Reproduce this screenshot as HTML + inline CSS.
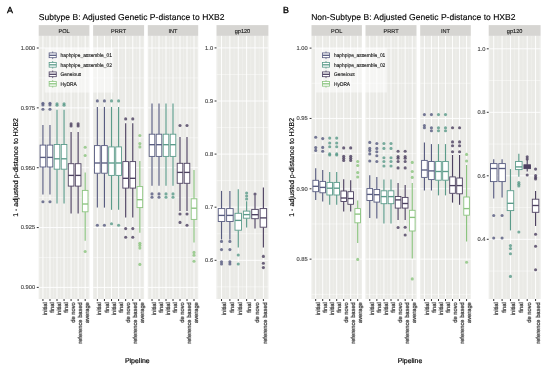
<!DOCTYPE html>
<html><head><meta charset="utf-8"><title>plot</title>
<style>
html,body{margin:0;padding:0;background:#fff;width:550px;height:368px;overflow:hidden}
svg{display:block;will-change:transform}
text{font-family:"Liberation Sans", sans-serif;text-rendering:geometricPrecision}
</style></head><body>
<svg width="550" height="368" viewBox="0 0 550 368">
<rect width="550" height="368" fill="#fff"/>
<text x="7" y="13" font-size="8.9" fill="#000" text-anchor="start" font-weight="normal" stroke="#000" stroke-width="0.35">A</text>
<text x="38.7" y="20.3" font-size="8.55" fill="#000" text-anchor="start" font-weight="normal" stroke="#000" stroke-width="0.12">Subtype B: Adjusted Genetic P-distance to HXB2</text>
<rect x="38.7" y="25.1" width="50.7" height="10.8" fill="#d6d5d2"/>
<text x="64.05" y="32.6" font-size="5.6" fill="#1a1a1a" text-anchor="middle" font-weight="normal" stroke="#1a1a1a" stroke-width="0.12">POL</text>
<rect x="38.7" y="35.9" width="50.7" height="263.1" fill="#eaeae6"/>
<line x1="38.7" x2="89.4" y1="77.92" y2="77.92" stroke="#fff" stroke-width="0.45"/>
<line x1="38.7" x2="89.4" y1="137.77" y2="137.77" stroke="#fff" stroke-width="0.45"/>
<line x1="38.7" x2="89.4" y1="197.62" y2="197.62" stroke="#fff" stroke-width="0.45"/>
<line x1="38.7" x2="89.4" y1="257.48" y2="257.48" stroke="#fff" stroke-width="0.45"/>
<line x1="38.7" x2="89.4" y1="48" y2="48" stroke="#fff" stroke-width="0.9"/>
<line x1="38.7" x2="89.4" y1="107.85" y2="107.85" stroke="#fff" stroke-width="0.9"/>
<line x1="38.7" x2="89.4" y1="167.7" y2="167.7" stroke="#fff" stroke-width="0.9"/>
<line x1="38.7" x2="89.4" y1="227.55" y2="227.55" stroke="#fff" stroke-width="0.9"/>
<line x1="38.7" x2="89.4" y1="287.4" y2="287.4" stroke="#fff" stroke-width="0.9"/>
<line x1="39.4" x2="39.4" y1="35.9" y2="299" stroke="#fff" stroke-opacity="0.55" stroke-width="0.4"/>
<line x1="46.45" x2="46.45" y1="35.9" y2="299" stroke="#fff" stroke-opacity="0.55" stroke-width="0.4"/>
<line x1="53.49" x2="53.49" y1="35.9" y2="299" stroke="#fff" stroke-opacity="0.55" stroke-width="0.4"/>
<line x1="60.53" x2="60.53" y1="35.9" y2="299" stroke="#fff" stroke-opacity="0.55" stroke-width="0.4"/>
<line x1="67.57" x2="67.57" y1="35.9" y2="299" stroke="#fff" stroke-opacity="0.55" stroke-width="0.4"/>
<line x1="74.61" x2="74.61" y1="35.9" y2="299" stroke="#fff" stroke-opacity="0.55" stroke-width="0.4"/>
<line x1="81.65" x2="81.65" y1="35.9" y2="299" stroke="#fff" stroke-opacity="0.55" stroke-width="0.4"/>
<line x1="88.7" x2="88.7" y1="35.9" y2="299" stroke="#fff" stroke-opacity="0.55" stroke-width="0.4"/>
<line x1="42.93" x2="42.93" y1="35.9" y2="299" stroke="#fff" stroke-width="0.9"/>
<line x1="49.97" x2="49.97" y1="35.9" y2="299" stroke="#fff" stroke-width="0.9"/>
<line x1="57.01" x2="57.01" y1="35.9" y2="299" stroke="#fff" stroke-width="0.9"/>
<line x1="64.05" x2="64.05" y1="35.9" y2="299" stroke="#fff" stroke-width="0.9"/>
<line x1="71.09" x2="71.09" y1="35.9" y2="299" stroke="#fff" stroke-width="0.9"/>
<line x1="78.13" x2="78.13" y1="35.9" y2="299" stroke="#fff" stroke-width="0.9"/>
<line x1="85.18" x2="85.18" y1="35.9" y2="299" stroke="#fff" stroke-width="0.9"/>
<line x1="42.93" x2="42.93" y1="299" y2="301" stroke="#333" stroke-width="1.0"/>
<text transform="translate(47.03,302.2) rotate(-90)" font-size="5.75" fill="#444" text-anchor="end" font-weight="normal" stroke="#444" stroke-width="0.25">initial</text>
<line x1="49.97" x2="49.97" y1="299" y2="301" stroke="#333" stroke-width="1.0"/>
<text transform="translate(54.07,302.2) rotate(-90)" font-size="5.75" fill="#444" text-anchor="end" font-weight="normal" stroke="#444" stroke-width="0.25">final</text>
<line x1="57.01" x2="57.01" y1="299" y2="301" stroke="#333" stroke-width="1.0"/>
<text transform="translate(61.11,302.2) rotate(-90)" font-size="5.75" fill="#444" text-anchor="end" font-weight="normal" stroke="#444" stroke-width="0.25">initial</text>
<line x1="64.05" x2="64.05" y1="299" y2="301" stroke="#333" stroke-width="1.0"/>
<text transform="translate(68.15,302.2) rotate(-90)" font-size="5.75" fill="#444" text-anchor="end" font-weight="normal" stroke="#444" stroke-width="0.25">final</text>
<line x1="71.09" x2="71.09" y1="299" y2="301" stroke="#333" stroke-width="1.0"/>
<text transform="translate(75.19,302.2) rotate(-90)" font-size="5.75" fill="#444" text-anchor="end" font-weight="normal" stroke="#444" stroke-width="0.25">de novo</text>
<line x1="78.13" x2="78.13" y1="299" y2="301" stroke="#333" stroke-width="1.0"/>
<text transform="translate(82.23,302.2) rotate(-90)" font-size="5.75" fill="#444" text-anchor="end" font-weight="normal" stroke="#444" stroke-width="0.25">reference based</text>
<line x1="85.18" x2="85.18" y1="299" y2="301" stroke="#333" stroke-width="1.0"/>
<text transform="translate(89.28,302.2) rotate(-90)" font-size="5.75" fill="#444" text-anchor="end" font-weight="normal" stroke="#444" stroke-width="0.25">average</text>
<line x1="36.8" x2="38.7" y1="48" y2="48" stroke="#333" stroke-width="1.0"/>
<text x="35.2" y="49.8" font-size="5.75" fill="#444" text-anchor="end" font-weight="normal" stroke="#444" stroke-width="0.12">1.000</text>
<line x1="36.8" x2="38.7" y1="107.85" y2="107.85" stroke="#333" stroke-width="1.0"/>
<text x="35.2" y="109.65" font-size="5.75" fill="#444" text-anchor="end" font-weight="normal" stroke="#444" stroke-width="0.12">0.975</text>
<line x1="36.8" x2="38.7" y1="167.7" y2="167.7" stroke="#333" stroke-width="1.0"/>
<text x="35.2" y="169.5" font-size="5.75" fill="#444" text-anchor="end" font-weight="normal" stroke="#444" stroke-width="0.12">0.950</text>
<line x1="36.8" x2="38.7" y1="227.55" y2="227.55" stroke="#333" stroke-width="1.0"/>
<text x="35.2" y="229.35" font-size="5.75" fill="#444" text-anchor="end" font-weight="normal" stroke="#444" stroke-width="0.12">0.925</text>
<line x1="36.8" x2="38.7" y1="287.4" y2="287.4" stroke="#333" stroke-width="1.0"/>
<text x="35.2" y="289.2" font-size="5.75" fill="#444" text-anchor="end" font-weight="normal" stroke="#444" stroke-width="0.12">0.900</text>
<line x1="42.93" x2="42.93" y1="124.9" y2="145.1" stroke="#585c80" stroke-width="1.15"/>
<line x1="42.93" x2="42.93" y1="167" y2="194.4" stroke="#585c80" stroke-width="1.15"/>
<rect x="40.11" y="145.1" width="5.63" height="21.9" fill="#fff" stroke="#585c80" stroke-width="0.9"/>
<line x1="40.11" x2="45.74" y1="157.4" y2="157.4" stroke="#585c80" stroke-width="1.35"/>
<circle cx="42.93" cy="103.3" r="1.55" fill="#585c80" fill-opacity="0.82"/>
<circle cx="42.93" cy="104.9" r="1.55" fill="#585c80" fill-opacity="0.82"/>
<circle cx="42.93" cy="109.3" r="1.55" fill="#585c80" fill-opacity="0.82"/>
<circle cx="42.93" cy="201.8" r="1.55" fill="#585c80" fill-opacity="0.82"/>
<line x1="49.97" x2="49.97" y1="124.9" y2="145.1" stroke="#585c80" stroke-width="1.15"/>
<line x1="49.97" x2="49.97" y1="167" y2="194.4" stroke="#585c80" stroke-width="1.15"/>
<rect x="47.15" y="145.1" width="5.63" height="21.9" fill="#fff" stroke="#585c80" stroke-width="0.9"/>
<line x1="47.15" x2="52.78" y1="157.4" y2="157.4" stroke="#585c80" stroke-width="1.35"/>
<circle cx="49.97" cy="103.3" r="1.55" fill="#585c80" fill-opacity="0.82"/>
<circle cx="49.97" cy="104.9" r="1.55" fill="#585c80" fill-opacity="0.82"/>
<circle cx="49.97" cy="109.3" r="1.55" fill="#585c80" fill-opacity="0.82"/>
<circle cx="49.97" cy="201.8" r="1.55" fill="#585c80" fill-opacity="0.82"/>
<line x1="57.01" x2="57.01" y1="109.8" y2="144.5" stroke="#5b9b8a" stroke-width="1.15"/>
<line x1="57.01" x2="57.01" y1="169.2" y2="203.6" stroke="#5b9b8a" stroke-width="1.15"/>
<rect x="54.19" y="144.5" width="5.63" height="24.7" fill="#fff" stroke="#5b9b8a" stroke-width="0.9"/>
<line x1="54.19" x2="59.83" y1="158.8" y2="158.8" stroke="#5b9b8a" stroke-width="1.35"/>
<circle cx="57.01" cy="103.8" r="1.55" fill="#5b9b8a" fill-opacity="0.82"/>
<circle cx="57.01" cy="105.3" r="1.55" fill="#5b9b8a" fill-opacity="0.82"/>
<line x1="64.05" x2="64.05" y1="109.8" y2="144.5" stroke="#5b9b8a" stroke-width="1.15"/>
<line x1="64.05" x2="64.05" y1="169.2" y2="203.6" stroke="#5b9b8a" stroke-width="1.15"/>
<rect x="61.23" y="144.5" width="5.63" height="24.7" fill="#fff" stroke="#5b9b8a" stroke-width="0.9"/>
<line x1="61.23" x2="66.87" y1="158.8" y2="158.8" stroke="#5b9b8a" stroke-width="1.35"/>
<circle cx="64.05" cy="103.8" r="1.55" fill="#5b9b8a" fill-opacity="0.82"/>
<circle cx="64.05" cy="105.3" r="1.55" fill="#5b9b8a" fill-opacity="0.82"/>
<line x1="71.09" x2="71.09" y1="132" y2="163.7" stroke="#4d4160" stroke-width="1.15"/>
<line x1="71.09" x2="71.09" y1="186.1" y2="213.4" stroke="#4d4160" stroke-width="1.15"/>
<rect x="68.28" y="163.7" width="5.63" height="22.4" fill="#fff" stroke="#4d4160" stroke-width="0.9"/>
<line x1="68.28" x2="73.91" y1="175.4" y2="175.4" stroke="#4d4160" stroke-width="1.35"/>
<circle cx="71.09" cy="123.9" r="1.55" fill="#4d4160" fill-opacity="0.82"/>
<circle cx="71.09" cy="126" r="1.55" fill="#4d4160" fill-opacity="0.82"/>
<line x1="78.13" x2="78.13" y1="132" y2="163.7" stroke="#4d4160" stroke-width="1.15"/>
<line x1="78.13" x2="78.13" y1="186.1" y2="213.4" stroke="#4d4160" stroke-width="1.15"/>
<rect x="75.32" y="163.7" width="5.63" height="22.4" fill="#fff" stroke="#4d4160" stroke-width="0.9"/>
<line x1="75.32" x2="80.95" y1="175.4" y2="175.4" stroke="#4d4160" stroke-width="1.35"/>
<circle cx="78.13" cy="123.9" r="1.55" fill="#4d4160" fill-opacity="0.82"/>
<circle cx="78.13" cy="126" r="1.55" fill="#4d4160" fill-opacity="0.82"/>
<line x1="85.18" x2="85.18" y1="172.4" y2="190.4" stroke="#8bc47f" stroke-width="1.15"/>
<line x1="85.18" x2="85.18" y1="211.8" y2="240.8" stroke="#8bc47f" stroke-width="1.15"/>
<rect x="82.36" y="190.4" width="5.63" height="21.4" fill="#fff" stroke="#8bc47f" stroke-width="0.9"/>
<line x1="82.36" x2="87.99" y1="204" y2="204" stroke="#8bc47f" stroke-width="1.35"/>
<circle cx="85.18" cy="147.3" r="1.55" fill="#8bc47f" fill-opacity="0.82"/>
<circle cx="85.18" cy="155.5" r="1.55" fill="#8bc47f" fill-opacity="0.82"/>
<circle cx="85.18" cy="251.5" r="1.55" fill="#8bc47f" fill-opacity="0.82"/>
<rect x="93.1" y="25.1" width="51" height="10.8" fill="#d6d5d2"/>
<text x="118.6" y="32.6" font-size="5.6" fill="#1a1a1a" text-anchor="middle" font-weight="normal" stroke="#1a1a1a" stroke-width="0.12">PRRT</text>
<rect x="93.1" y="35.9" width="51" height="263.1" fill="#eaeae6"/>
<line x1="93.1" x2="144.1" y1="77.92" y2="77.92" stroke="#fff" stroke-width="0.45"/>
<line x1="93.1" x2="144.1" y1="137.77" y2="137.77" stroke="#fff" stroke-width="0.45"/>
<line x1="93.1" x2="144.1" y1="197.62" y2="197.62" stroke="#fff" stroke-width="0.45"/>
<line x1="93.1" x2="144.1" y1="257.48" y2="257.48" stroke="#fff" stroke-width="0.45"/>
<line x1="93.1" x2="144.1" y1="48" y2="48" stroke="#fff" stroke-width="0.9"/>
<line x1="93.1" x2="144.1" y1="107.85" y2="107.85" stroke="#fff" stroke-width="0.9"/>
<line x1="93.1" x2="144.1" y1="167.7" y2="167.7" stroke="#fff" stroke-width="0.9"/>
<line x1="93.1" x2="144.1" y1="227.55" y2="227.55" stroke="#fff" stroke-width="0.9"/>
<line x1="93.1" x2="144.1" y1="287.4" y2="287.4" stroke="#fff" stroke-width="0.9"/>
<line x1="93.81" x2="93.81" y1="35.9" y2="299" stroke="#fff" stroke-opacity="0.55" stroke-width="0.4"/>
<line x1="100.89" x2="100.89" y1="35.9" y2="299" stroke="#fff" stroke-opacity="0.55" stroke-width="0.4"/>
<line x1="107.97" x2="107.97" y1="35.9" y2="299" stroke="#fff" stroke-opacity="0.55" stroke-width="0.4"/>
<line x1="115.06" x2="115.06" y1="35.9" y2="299" stroke="#fff" stroke-opacity="0.55" stroke-width="0.4"/>
<line x1="122.14" x2="122.14" y1="35.9" y2="299" stroke="#fff" stroke-opacity="0.55" stroke-width="0.4"/>
<line x1="129.22" x2="129.22" y1="35.9" y2="299" stroke="#fff" stroke-opacity="0.55" stroke-width="0.4"/>
<line x1="136.31" x2="136.31" y1="35.9" y2="299" stroke="#fff" stroke-opacity="0.55" stroke-width="0.4"/>
<line x1="143.39" x2="143.39" y1="35.9" y2="299" stroke="#fff" stroke-opacity="0.55" stroke-width="0.4"/>
<line x1="97.35" x2="97.35" y1="35.9" y2="299" stroke="#fff" stroke-width="0.9"/>
<line x1="104.43" x2="104.43" y1="35.9" y2="299" stroke="#fff" stroke-width="0.9"/>
<line x1="111.52" x2="111.52" y1="35.9" y2="299" stroke="#fff" stroke-width="0.9"/>
<line x1="118.6" x2="118.6" y1="35.9" y2="299" stroke="#fff" stroke-width="0.9"/>
<line x1="125.68" x2="125.68" y1="35.9" y2="299" stroke="#fff" stroke-width="0.9"/>
<line x1="132.77" x2="132.77" y1="35.9" y2="299" stroke="#fff" stroke-width="0.9"/>
<line x1="139.85" x2="139.85" y1="35.9" y2="299" stroke="#fff" stroke-width="0.9"/>
<line x1="97.35" x2="97.35" y1="299" y2="301" stroke="#333" stroke-width="1.0"/>
<text transform="translate(101.45,302.2) rotate(-90)" font-size="5.75" fill="#444" text-anchor="end" font-weight="normal" stroke="#444" stroke-width="0.25">initial</text>
<line x1="104.43" x2="104.43" y1="299" y2="301" stroke="#333" stroke-width="1.0"/>
<text transform="translate(108.53,302.2) rotate(-90)" font-size="5.75" fill="#444" text-anchor="end" font-weight="normal" stroke="#444" stroke-width="0.25">final</text>
<line x1="111.52" x2="111.52" y1="299" y2="301" stroke="#333" stroke-width="1.0"/>
<text transform="translate(115.62,302.2) rotate(-90)" font-size="5.75" fill="#444" text-anchor="end" font-weight="normal" stroke="#444" stroke-width="0.25">initial</text>
<line x1="118.6" x2="118.6" y1="299" y2="301" stroke="#333" stroke-width="1.0"/>
<text transform="translate(122.7,302.2) rotate(-90)" font-size="5.75" fill="#444" text-anchor="end" font-weight="normal" stroke="#444" stroke-width="0.25">final</text>
<line x1="125.68" x2="125.68" y1="299" y2="301" stroke="#333" stroke-width="1.0"/>
<text transform="translate(129.78,302.2) rotate(-90)" font-size="5.75" fill="#444" text-anchor="end" font-weight="normal" stroke="#444" stroke-width="0.25">de novo</text>
<line x1="132.77" x2="132.77" y1="299" y2="301" stroke="#333" stroke-width="1.0"/>
<text transform="translate(136.87,302.2) rotate(-90)" font-size="5.75" fill="#444" text-anchor="end" font-weight="normal" stroke="#444" stroke-width="0.25">reference based</text>
<line x1="139.85" x2="139.85" y1="299" y2="301" stroke="#333" stroke-width="1.0"/>
<text transform="translate(143.95,302.2) rotate(-90)" font-size="5.75" fill="#444" text-anchor="end" font-weight="normal" stroke="#444" stroke-width="0.25">average</text>
<line x1="97.35" x2="97.35" y1="106.9" y2="145.6" stroke="#585c80" stroke-width="1.15"/>
<line x1="97.35" x2="97.35" y1="173.2" y2="207.6" stroke="#585c80" stroke-width="1.15"/>
<rect x="94.52" y="145.6" width="5.67" height="27.6" fill="#fff" stroke="#585c80" stroke-width="0.9"/>
<line x1="94.52" x2="100.18" y1="163" y2="163" stroke="#585c80" stroke-width="1.35"/>
<circle cx="97.35" cy="100.9" r="1.55" fill="#585c80" fill-opacity="0.82"/>
<circle cx="97.35" cy="225.3" r="1.55" fill="#585c80" fill-opacity="0.82"/>
<line x1="104.43" x2="104.43" y1="106.9" y2="145.6" stroke="#585c80" stroke-width="1.15"/>
<line x1="104.43" x2="104.43" y1="173.2" y2="207.6" stroke="#585c80" stroke-width="1.15"/>
<rect x="101.6" y="145.6" width="5.67" height="27.6" fill="#fff" stroke="#585c80" stroke-width="0.9"/>
<line x1="101.6" x2="107.27" y1="163" y2="163" stroke="#585c80" stroke-width="1.35"/>
<circle cx="104.43" cy="100.9" r="1.55" fill="#585c80" fill-opacity="0.82"/>
<circle cx="104.43" cy="225.3" r="1.55" fill="#585c80" fill-opacity="0.82"/>
<line x1="111.52" x2="111.52" y1="106.9" y2="146.9" stroke="#5b9b8a" stroke-width="1.15"/>
<line x1="111.52" x2="111.52" y1="175.4" y2="209.8" stroke="#5b9b8a" stroke-width="1.15"/>
<rect x="108.68" y="146.9" width="5.67" height="28.5" fill="#fff" stroke="#5b9b8a" stroke-width="0.9"/>
<line x1="108.68" x2="114.35" y1="163" y2="163" stroke="#5b9b8a" stroke-width="1.35"/>
<circle cx="111.52" cy="100.9" r="1.55" fill="#5b9b8a" fill-opacity="0.82"/>
<circle cx="111.52" cy="223.8" r="1.55" fill="#5b9b8a" fill-opacity="0.82"/>
<line x1="118.6" x2="118.6" y1="106.9" y2="146.9" stroke="#5b9b8a" stroke-width="1.15"/>
<line x1="118.6" x2="118.6" y1="175.4" y2="209.8" stroke="#5b9b8a" stroke-width="1.15"/>
<rect x="115.77" y="146.9" width="5.67" height="28.5" fill="#fff" stroke="#5b9b8a" stroke-width="0.9"/>
<line x1="115.77" x2="121.43" y1="163" y2="163" stroke="#5b9b8a" stroke-width="1.35"/>
<circle cx="118.6" cy="100.9" r="1.55" fill="#5b9b8a" fill-opacity="0.82"/>
<circle cx="118.6" cy="225.3" r="1.55" fill="#5b9b8a" fill-opacity="0.82"/>
<line x1="125.68" x2="125.68" y1="123.3" y2="161.6" stroke="#4d4160" stroke-width="1.15"/>
<line x1="125.68" x2="125.68" y1="188.1" y2="217.4" stroke="#4d4160" stroke-width="1.15"/>
<rect x="122.85" y="161.6" width="5.67" height="26.5" fill="#fff" stroke="#4d4160" stroke-width="0.9"/>
<line x1="122.85" x2="128.52" y1="178.3" y2="178.3" stroke="#4d4160" stroke-width="1.35"/>
<circle cx="125.68" cy="118.9" r="1.55" fill="#4d4160" fill-opacity="0.82"/>
<circle cx="125.68" cy="228.6" r="1.55" fill="#4d4160" fill-opacity="0.82"/>
<circle cx="125.68" cy="237.3" r="1.55" fill="#4d4160" fill-opacity="0.82"/>
<line x1="132.77" x2="132.77" y1="123.3" y2="161.6" stroke="#4d4160" stroke-width="1.15"/>
<line x1="132.77" x2="132.77" y1="188.1" y2="217.4" stroke="#4d4160" stroke-width="1.15"/>
<rect x="129.93" y="161.6" width="5.67" height="26.5" fill="#fff" stroke="#4d4160" stroke-width="0.9"/>
<line x1="129.93" x2="135.6" y1="178.3" y2="178.3" stroke="#4d4160" stroke-width="1.35"/>
<circle cx="132.77" cy="118.9" r="1.55" fill="#4d4160" fill-opacity="0.82"/>
<circle cx="132.77" cy="228.6" r="1.55" fill="#4d4160" fill-opacity="0.82"/>
<circle cx="132.77" cy="237.3" r="1.55" fill="#4d4160" fill-opacity="0.82"/>
<line x1="139.85" x2="139.85" y1="161.1" y2="186.6" stroke="#8bc47f" stroke-width="1.15"/>
<line x1="139.85" x2="139.85" y1="207.6" y2="232.7" stroke="#8bc47f" stroke-width="1.15"/>
<rect x="137.02" y="186.6" width="5.67" height="21" fill="#fff" stroke="#8bc47f" stroke-width="0.9"/>
<line x1="137.02" x2="142.68" y1="199.7" y2="199.7" stroke="#8bc47f" stroke-width="1.35"/>
<circle cx="139.85" cy="135.5" r="1.55" fill="#8bc47f" fill-opacity="0.82"/>
<circle cx="139.85" cy="143.6" r="1.55" fill="#8bc47f" fill-opacity="0.82"/>
<circle cx="139.85" cy="146.9" r="1.55" fill="#8bc47f" fill-opacity="0.82"/>
<circle cx="139.85" cy="243.2" r="1.55" fill="#8bc47f" fill-opacity="0.82"/>
<circle cx="139.85" cy="245.4" r="1.55" fill="#8bc47f" fill-opacity="0.82"/>
<circle cx="139.85" cy="248.1" r="1.55" fill="#8bc47f" fill-opacity="0.82"/>
<circle cx="139.85" cy="264.4" r="1.55" fill="#8bc47f" fill-opacity="0.82"/>
<rect x="147.8" y="25.1" width="50.4" height="10.8" fill="#d6d5d2"/>
<text x="173" y="32.6" font-size="5.6" fill="#1a1a1a" text-anchor="middle" font-weight="normal" stroke="#1a1a1a" stroke-width="0.12">INT</text>
<rect x="147.8" y="35.9" width="50.4" height="263.1" fill="#eaeae6"/>
<line x1="147.8" x2="198.2" y1="77.92" y2="77.92" stroke="#fff" stroke-width="0.45"/>
<line x1="147.8" x2="198.2" y1="137.77" y2="137.77" stroke="#fff" stroke-width="0.45"/>
<line x1="147.8" x2="198.2" y1="197.62" y2="197.62" stroke="#fff" stroke-width="0.45"/>
<line x1="147.8" x2="198.2" y1="257.48" y2="257.48" stroke="#fff" stroke-width="0.45"/>
<line x1="147.8" x2="198.2" y1="48" y2="48" stroke="#fff" stroke-width="0.9"/>
<line x1="147.8" x2="198.2" y1="107.85" y2="107.85" stroke="#fff" stroke-width="0.9"/>
<line x1="147.8" x2="198.2" y1="167.7" y2="167.7" stroke="#fff" stroke-width="0.9"/>
<line x1="147.8" x2="198.2" y1="227.55" y2="227.55" stroke="#fff" stroke-width="0.9"/>
<line x1="147.8" x2="198.2" y1="287.4" y2="287.4" stroke="#fff" stroke-width="0.9"/>
<line x1="148.5" x2="148.5" y1="35.9" y2="299" stroke="#fff" stroke-opacity="0.55" stroke-width="0.4"/>
<line x1="155.5" x2="155.5" y1="35.9" y2="299" stroke="#fff" stroke-opacity="0.55" stroke-width="0.4"/>
<line x1="162.5" x2="162.5" y1="35.9" y2="299" stroke="#fff" stroke-opacity="0.55" stroke-width="0.4"/>
<line x1="169.5" x2="169.5" y1="35.9" y2="299" stroke="#fff" stroke-opacity="0.55" stroke-width="0.4"/>
<line x1="176.5" x2="176.5" y1="35.9" y2="299" stroke="#fff" stroke-opacity="0.55" stroke-width="0.4"/>
<line x1="183.5" x2="183.5" y1="35.9" y2="299" stroke="#fff" stroke-opacity="0.55" stroke-width="0.4"/>
<line x1="190.5" x2="190.5" y1="35.9" y2="299" stroke="#fff" stroke-opacity="0.55" stroke-width="0.4"/>
<line x1="197.5" x2="197.5" y1="35.9" y2="299" stroke="#fff" stroke-opacity="0.55" stroke-width="0.4"/>
<line x1="152" x2="152" y1="35.9" y2="299" stroke="#fff" stroke-width="0.9"/>
<line x1="159" x2="159" y1="35.9" y2="299" stroke="#fff" stroke-width="0.9"/>
<line x1="166" x2="166" y1="35.9" y2="299" stroke="#fff" stroke-width="0.9"/>
<line x1="173" x2="173" y1="35.9" y2="299" stroke="#fff" stroke-width="0.9"/>
<line x1="180" x2="180" y1="35.9" y2="299" stroke="#fff" stroke-width="0.9"/>
<line x1="187" x2="187" y1="35.9" y2="299" stroke="#fff" stroke-width="0.9"/>
<line x1="194" x2="194" y1="35.9" y2="299" stroke="#fff" stroke-width="0.9"/>
<line x1="152" x2="152" y1="299" y2="301" stroke="#333" stroke-width="1.0"/>
<text transform="translate(156.1,302.2) rotate(-90)" font-size="5.75" fill="#444" text-anchor="end" font-weight="normal" stroke="#444" stroke-width="0.25">initial</text>
<line x1="159" x2="159" y1="299" y2="301" stroke="#333" stroke-width="1.0"/>
<text transform="translate(163.1,302.2) rotate(-90)" font-size="5.75" fill="#444" text-anchor="end" font-weight="normal" stroke="#444" stroke-width="0.25">final</text>
<line x1="166" x2="166" y1="299" y2="301" stroke="#333" stroke-width="1.0"/>
<text transform="translate(170.1,302.2) rotate(-90)" font-size="5.75" fill="#444" text-anchor="end" font-weight="normal" stroke="#444" stroke-width="0.25">initial</text>
<line x1="173" x2="173" y1="299" y2="301" stroke="#333" stroke-width="1.0"/>
<text transform="translate(177.1,302.2) rotate(-90)" font-size="5.75" fill="#444" text-anchor="end" font-weight="normal" stroke="#444" stroke-width="0.25">final</text>
<line x1="180" x2="180" y1="299" y2="301" stroke="#333" stroke-width="1.0"/>
<text transform="translate(184.1,302.2) rotate(-90)" font-size="5.75" fill="#444" text-anchor="end" font-weight="normal" stroke="#444" stroke-width="0.25">de novo</text>
<line x1="187" x2="187" y1="299" y2="301" stroke="#333" stroke-width="1.0"/>
<text transform="translate(191.1,302.2) rotate(-90)" font-size="5.75" fill="#444" text-anchor="end" font-weight="normal" stroke="#444" stroke-width="0.25">reference based</text>
<line x1="194" x2="194" y1="299" y2="301" stroke="#333" stroke-width="1.0"/>
<text transform="translate(198.1,302.2) rotate(-90)" font-size="5.75" fill="#444" text-anchor="end" font-weight="normal" stroke="#444" stroke-width="0.25">average</text>
<line x1="152" x2="152" y1="103.5" y2="134.2" stroke="#585c80" stroke-width="1.15"/>
<line x1="152" x2="152" y1="156.4" y2="185.7" stroke="#585c80" stroke-width="1.15"/>
<rect x="149.2" y="134.2" width="5.6" height="22.2" fill="#fff" stroke="#585c80" stroke-width="0.9"/>
<line x1="149.2" x2="154.8" y1="144.7" y2="144.7" stroke="#585c80" stroke-width="1.35"/>
<circle cx="152" cy="193.9" r="1.55" fill="#585c80" fill-opacity="0.82"/>
<circle cx="152" cy="197.2" r="1.55" fill="#585c80" fill-opacity="0.82"/>
<line x1="159" x2="159" y1="103.5" y2="134.2" stroke="#585c80" stroke-width="1.15"/>
<line x1="159" x2="159" y1="156.4" y2="185.7" stroke="#585c80" stroke-width="1.15"/>
<rect x="156.2" y="134.2" width="5.6" height="22.2" fill="#fff" stroke="#585c80" stroke-width="0.9"/>
<line x1="156.2" x2="161.8" y1="144.7" y2="144.7" stroke="#585c80" stroke-width="1.35"/>
<circle cx="159" cy="193.9" r="1.55" fill="#585c80" fill-opacity="0.82"/>
<circle cx="159" cy="197.2" r="1.55" fill="#585c80" fill-opacity="0.82"/>
<line x1="166" x2="166" y1="103.5" y2="134.2" stroke="#5b9b8a" stroke-width="1.15"/>
<line x1="166" x2="166" y1="156.4" y2="185.7" stroke="#5b9b8a" stroke-width="1.15"/>
<rect x="163.2" y="134.2" width="5.6" height="22.2" fill="#fff" stroke="#5b9b8a" stroke-width="0.9"/>
<line x1="163.2" x2="168.8" y1="144.7" y2="144.7" stroke="#5b9b8a" stroke-width="1.35"/>
<circle cx="166" cy="193.9" r="1.55" fill="#5b9b8a" fill-opacity="0.82"/>
<circle cx="166" cy="197.2" r="1.55" fill="#5b9b8a" fill-opacity="0.82"/>
<line x1="173" x2="173" y1="103.5" y2="134.2" stroke="#5b9b8a" stroke-width="1.15"/>
<line x1="173" x2="173" y1="156.4" y2="185.7" stroke="#5b9b8a" stroke-width="1.15"/>
<rect x="170.2" y="134.2" width="5.6" height="22.2" fill="#fff" stroke="#5b9b8a" stroke-width="0.9"/>
<line x1="170.2" x2="175.8" y1="144.7" y2="144.7" stroke="#5b9b8a" stroke-width="1.35"/>
<circle cx="173" cy="193.9" r="1.55" fill="#5b9b8a" fill-opacity="0.82"/>
<circle cx="173" cy="197.2" r="1.55" fill="#5b9b8a" fill-opacity="0.82"/>
<line x1="180" x2="180" y1="137.1" y2="163.3" stroke="#4d4160" stroke-width="1.15"/>
<line x1="180" x2="180" y1="183.3" y2="210.9" stroke="#4d4160" stroke-width="1.15"/>
<rect x="177.2" y="163.3" width="5.6" height="20" fill="#fff" stroke="#4d4160" stroke-width="0.9"/>
<line x1="177.2" x2="182.8" y1="172.4" y2="172.4" stroke="#4d4160" stroke-width="1.35"/>
<circle cx="180" cy="125.5" r="1.55" fill="#4d4160" fill-opacity="0.82"/>
<circle cx="180" cy="214" r="1.55" fill="#4d4160" fill-opacity="0.82"/>
<circle cx="180" cy="222.4" r="1.55" fill="#4d4160" fill-opacity="0.82"/>
<line x1="187" x2="187" y1="137.1" y2="163.3" stroke="#4d4160" stroke-width="1.15"/>
<line x1="187" x2="187" y1="183.3" y2="210.9" stroke="#4d4160" stroke-width="1.15"/>
<rect x="184.2" y="163.3" width="5.6" height="20" fill="#fff" stroke="#4d4160" stroke-width="0.9"/>
<line x1="184.2" x2="189.8" y1="172.4" y2="172.4" stroke="#4d4160" stroke-width="1.35"/>
<circle cx="187" cy="125.5" r="1.55" fill="#4d4160" fill-opacity="0.82"/>
<circle cx="187" cy="214" r="1.55" fill="#4d4160" fill-opacity="0.82"/>
<circle cx="187" cy="225.3" r="1.55" fill="#4d4160" fill-opacity="0.82"/>
<line x1="194" x2="194" y1="169.9" y2="198.8" stroke="#8bc47f" stroke-width="1.15"/>
<line x1="194" x2="194" y1="219.4" y2="242.6" stroke="#8bc47f" stroke-width="1.15"/>
<rect x="191.2" y="198.8" width="5.6" height="20.6" fill="#fff" stroke="#8bc47f" stroke-width="0.9"/>
<line x1="191.2" x2="196.8" y1="208.2" y2="208.2" stroke="#8bc47f" stroke-width="1.35"/>
<circle cx="194" cy="252.4" r="1.55" fill="#8bc47f" fill-opacity="0.82"/>
<circle cx="194" cy="255.2" r="1.55" fill="#8bc47f" fill-opacity="0.82"/>
<circle cx="194" cy="261.2" r="1.55" fill="#8bc47f" fill-opacity="0.82"/>
<rect x="216.5" y="25.1" width="51.9" height="10.8" fill="#d6d5d2"/>
<text x="242.45" y="32.6" font-size="5.6" fill="#1a1a1a" text-anchor="middle" font-weight="normal" stroke="#1a1a1a" stroke-width="0.12">gp120</text>
<rect x="216.5" y="35.9" width="51.9" height="263.1" fill="#eaeae6"/>
<line x1="216.5" x2="268.4" y1="74.45" y2="74.45" stroke="#fff" stroke-width="0.45"/>
<line x1="216.5" x2="268.4" y1="127.55" y2="127.55" stroke="#fff" stroke-width="0.45"/>
<line x1="216.5" x2="268.4" y1="180.65" y2="180.65" stroke="#fff" stroke-width="0.45"/>
<line x1="216.5" x2="268.4" y1="233.75" y2="233.75" stroke="#fff" stroke-width="0.45"/>
<line x1="216.5" x2="268.4" y1="286.85" y2="286.85" stroke="#fff" stroke-width="0.45"/>
<line x1="216.5" x2="268.4" y1="47.9" y2="47.9" stroke="#fff" stroke-width="0.9"/>
<line x1="216.5" x2="268.4" y1="101" y2="101" stroke="#fff" stroke-width="0.9"/>
<line x1="216.5" x2="268.4" y1="154.1" y2="154.1" stroke="#fff" stroke-width="0.9"/>
<line x1="216.5" x2="268.4" y1="207.2" y2="207.2" stroke="#fff" stroke-width="0.9"/>
<line x1="216.5" x2="268.4" y1="260.3" y2="260.3" stroke="#fff" stroke-width="0.9"/>
<line x1="217.34" x2="217.34" y1="35.9" y2="299" stroke="#fff" stroke-opacity="0.55" stroke-width="0.4"/>
<line x1="225.71" x2="225.71" y1="35.9" y2="299" stroke="#fff" stroke-opacity="0.55" stroke-width="0.4"/>
<line x1="234.08" x2="234.08" y1="35.9" y2="299" stroke="#fff" stroke-opacity="0.55" stroke-width="0.4"/>
<line x1="242.45" x2="242.45" y1="35.9" y2="299" stroke="#fff" stroke-opacity="0.55" stroke-width="0.4"/>
<line x1="250.82" x2="250.82" y1="35.9" y2="299" stroke="#fff" stroke-opacity="0.55" stroke-width="0.4"/>
<line x1="259.19" x2="259.19" y1="35.9" y2="299" stroke="#fff" stroke-opacity="0.55" stroke-width="0.4"/>
<line x1="267.56" x2="267.56" y1="35.9" y2="299" stroke="#fff" stroke-opacity="0.55" stroke-width="0.4"/>
<line x1="221.52" x2="221.52" y1="35.9" y2="299" stroke="#fff" stroke-width="0.9"/>
<line x1="229.89" x2="229.89" y1="35.9" y2="299" stroke="#fff" stroke-width="0.9"/>
<line x1="238.26" x2="238.26" y1="35.9" y2="299" stroke="#fff" stroke-width="0.9"/>
<line x1="246.64" x2="246.64" y1="35.9" y2="299" stroke="#fff" stroke-width="0.9"/>
<line x1="255.01" x2="255.01" y1="35.9" y2="299" stroke="#fff" stroke-width="0.9"/>
<line x1="263.38" x2="263.38" y1="35.9" y2="299" stroke="#fff" stroke-width="0.9"/>
<line x1="221.52" x2="221.52" y1="299" y2="301" stroke="#333" stroke-width="1.0"/>
<text transform="translate(225.62,302.2) rotate(-90)" font-size="5.75" fill="#444" text-anchor="end" font-weight="normal" stroke="#444" stroke-width="0.25">initial</text>
<line x1="229.89" x2="229.89" y1="299" y2="301" stroke="#333" stroke-width="1.0"/>
<text transform="translate(233.99,302.2) rotate(-90)" font-size="5.75" fill="#444" text-anchor="end" font-weight="normal" stroke="#444" stroke-width="0.25">final</text>
<line x1="238.26" x2="238.26" y1="299" y2="301" stroke="#333" stroke-width="1.0"/>
<text transform="translate(242.36,302.2) rotate(-90)" font-size="5.75" fill="#444" text-anchor="end" font-weight="normal" stroke="#444" stroke-width="0.25">initial</text>
<line x1="246.64" x2="246.64" y1="299" y2="301" stroke="#333" stroke-width="1.0"/>
<text transform="translate(250.74,302.2) rotate(-90)" font-size="5.75" fill="#444" text-anchor="end" font-weight="normal" stroke="#444" stroke-width="0.25">final</text>
<line x1="255.01" x2="255.01" y1="299" y2="301" stroke="#333" stroke-width="1.0"/>
<text transform="translate(259.11,302.2) rotate(-90)" font-size="5.75" fill="#444" text-anchor="end" font-weight="normal" stroke="#444" stroke-width="0.25">de novo</text>
<line x1="263.38" x2="263.38" y1="299" y2="301" stroke="#333" stroke-width="1.0"/>
<text transform="translate(267.48,302.2) rotate(-90)" font-size="5.75" fill="#444" text-anchor="end" font-weight="normal" stroke="#444" stroke-width="0.25">reference based</text>
<line x1="214.6" x2="216.5" y1="47.9" y2="47.9" stroke="#333" stroke-width="1.0"/>
<text x="213.1" y="49.7" font-size="5.75" fill="#444" text-anchor="end" font-weight="normal" stroke="#444" stroke-width="0.12">1.0</text>
<line x1="214.6" x2="216.5" y1="101" y2="101" stroke="#333" stroke-width="1.0"/>
<text x="213.1" y="102.8" font-size="5.75" fill="#444" text-anchor="end" font-weight="normal" stroke="#444" stroke-width="0.12">0.9</text>
<line x1="214.6" x2="216.5" y1="154.1" y2="154.1" stroke="#333" stroke-width="1.0"/>
<text x="213.1" y="155.9" font-size="5.75" fill="#444" text-anchor="end" font-weight="normal" stroke="#444" stroke-width="0.12">0.8</text>
<line x1="214.6" x2="216.5" y1="207.2" y2="207.2" stroke="#333" stroke-width="1.0"/>
<text x="213.1" y="209" font-size="5.75" fill="#444" text-anchor="end" font-weight="normal" stroke="#444" stroke-width="0.12">0.7</text>
<line x1="214.6" x2="216.5" y1="260.3" y2="260.3" stroke="#333" stroke-width="1.0"/>
<text x="213.1" y="262.1" font-size="5.75" fill="#444" text-anchor="end" font-weight="normal" stroke="#444" stroke-width="0.12">0.6</text>
<line x1="221.52" x2="221.52" y1="190.9" y2="208.6" stroke="#585c80" stroke-width="1.15"/>
<line x1="221.52" x2="221.52" y1="221.5" y2="239.4" stroke="#585c80" stroke-width="1.15"/>
<rect x="218.26" y="208.6" width="6.53" height="12.9" fill="#fff" stroke="#585c80" stroke-width="0.9"/>
<line x1="218.26" x2="224.79" y1="215.4" y2="215.4" stroke="#585c80" stroke-width="1.35"/>
<circle cx="221.52" cy="241.4" r="1.55" fill="#585c80" fill-opacity="0.82"/>
<circle cx="221.52" cy="249.6" r="1.55" fill="#585c80" fill-opacity="0.82"/>
<circle cx="221.52" cy="261.8" r="1.55" fill="#585c80" fill-opacity="0.82"/>
<circle cx="221.52" cy="264" r="1.55" fill="#585c80" fill-opacity="0.82"/>
<line x1="229.89" x2="229.89" y1="190.9" y2="208.6" stroke="#585c80" stroke-width="1.15"/>
<line x1="229.89" x2="229.89" y1="221.5" y2="239.4" stroke="#585c80" stroke-width="1.15"/>
<rect x="226.63" y="208.6" width="6.53" height="12.9" fill="#fff" stroke="#585c80" stroke-width="0.9"/>
<line x1="226.63" x2="233.16" y1="215.4" y2="215.4" stroke="#585c80" stroke-width="1.35"/>
<circle cx="229.89" cy="241.4" r="1.55" fill="#585c80" fill-opacity="0.82"/>
<circle cx="229.89" cy="249.6" r="1.55" fill="#585c80" fill-opacity="0.82"/>
<circle cx="229.89" cy="261.8" r="1.55" fill="#585c80" fill-opacity="0.82"/>
<circle cx="229.89" cy="264" r="1.55" fill="#585c80" fill-opacity="0.82"/>
<line x1="238.26" x2="238.26" y1="189.3" y2="213.3" stroke="#5b9b8a" stroke-width="1.15"/>
<line x1="238.26" x2="238.26" y1="230.2" y2="247.6" stroke="#5b9b8a" stroke-width="1.15"/>
<rect x="235" y="213.3" width="6.53" height="16.9" fill="#fff" stroke="#5b9b8a" stroke-width="0.9"/>
<line x1="235" x2="241.53" y1="220.4" y2="220.4" stroke="#5b9b8a" stroke-width="1.35"/>
<circle cx="238.26" cy="255" r="1.55" fill="#5b9b8a" fill-opacity="0.82"/>
<circle cx="238.26" cy="264" r="1.55" fill="#5b9b8a" fill-opacity="0.82"/>
<line x1="246.64" x2="246.64" y1="201.3" y2="211.1" stroke="#5b9b8a" stroke-width="1.15"/>
<line x1="246.64" x2="246.64" y1="218.2" y2="227.4" stroke="#5b9b8a" stroke-width="1.15"/>
<rect x="243.37" y="211.1" width="6.53" height="7.1" fill="#fff" stroke="#5b9b8a" stroke-width="0.9"/>
<line x1="243.37" x2="249.9" y1="214.6" y2="214.6" stroke="#5b9b8a" stroke-width="1.35"/>
<circle cx="246.64" cy="193" r="1.55" fill="#5b9b8a" fill-opacity="0.82"/>
<circle cx="246.64" cy="196" r="1.55" fill="#5b9b8a" fill-opacity="0.82"/>
<circle cx="246.64" cy="199" r="1.55" fill="#5b9b8a" fill-opacity="0.82"/>
<line x1="255.01" x2="255.01" y1="195.3" y2="209.4" stroke="#4d4160" stroke-width="1.15"/>
<line x1="255.01" x2="255.01" y1="218.7" y2="228.5" stroke="#4d4160" stroke-width="1.15"/>
<rect x="251.74" y="209.4" width="6.53" height="9.3" fill="#fff" stroke="#4d4160" stroke-width="0.9"/>
<line x1="251.74" x2="258.27" y1="214.7" y2="214.7" stroke="#4d4160" stroke-width="1.35"/>
<circle cx="255.01" cy="194" r="1.55" fill="#4d4160" fill-opacity="0.82"/>
<line x1="263.38" x2="263.38" y1="187.6" y2="208.6" stroke="#4d4160" stroke-width="1.15"/>
<line x1="263.38" x2="263.38" y1="227.2" y2="247.6" stroke="#4d4160" stroke-width="1.15"/>
<rect x="260.11" y="208.6" width="6.53" height="18.6" fill="#fff" stroke="#4d4160" stroke-width="0.9"/>
<line x1="260.11" x2="266.64" y1="217.9" y2="217.9" stroke="#4d4160" stroke-width="1.35"/>
<circle cx="263.38" cy="256.4" r="1.55" fill="#4d4160" fill-opacity="0.82"/>
<circle cx="263.38" cy="263.2" r="1.55" fill="#4d4160" fill-opacity="0.82"/>
<circle cx="263.38" cy="267.6" r="1.55" fill="#4d4160" fill-opacity="0.82"/>
<rect x="44.7" y="48.1" width="68.8" height="44.5" fill="#fff" fill-opacity="0.5"/>
<line x1="52.7" x2="52.7" y1="51.5" y2="59.1" stroke="#585c80" stroke-width="0.8"/>
<rect x="49.14" y="52.92" width="7.12" height="4.75" fill="#fff" stroke="#585c80" stroke-width="0.8"/>
<line x1="49.14" x2="56.26" y1="55.3" y2="55.3" stroke="#585c80" stroke-width="1.3"/>
<text x="60.6" y="57.1" font-size="5.3" fill="#111" text-anchor="start" font-weight="normal" stroke="#111" stroke-width="0.12" textLength="51.28" lengthAdjust="spacingAndGlyphs">haphpipe_assemble_01</text>
<line x1="52.7" x2="52.7" y1="61" y2="68.6" stroke="#5b9b8a" stroke-width="0.8"/>
<rect x="49.14" y="62.42" width="7.12" height="4.75" fill="#fff" stroke="#5b9b8a" stroke-width="0.8"/>
<line x1="49.14" x2="56.26" y1="64.8" y2="64.8" stroke="#5b9b8a" stroke-width="1.3"/>
<text x="60.6" y="66.6" font-size="5.3" fill="#111" text-anchor="start" font-weight="normal" stroke="#111" stroke-width="0.12" textLength="51.28" lengthAdjust="spacingAndGlyphs">haphpipe_assemble_02</text>
<line x1="52.7" x2="52.7" y1="70.5" y2="78.1" stroke="#4d4160" stroke-width="0.8"/>
<rect x="49.14" y="71.92" width="7.12" height="4.75" fill="#fff" stroke="#4d4160" stroke-width="0.8"/>
<line x1="49.14" x2="56.26" y1="74.3" y2="74.3" stroke="#4d4160" stroke-width="1.3"/>
<text x="60.6" y="76.1" font-size="5.3" fill="#111" text-anchor="start" font-weight="normal" stroke="#111" stroke-width="0.12" textLength="20.67" lengthAdjust="spacingAndGlyphs">Geneious</text>
<line x1="52.7" x2="52.7" y1="80" y2="87.6" stroke="#8bc47f" stroke-width="0.8"/>
<rect x="49.14" y="81.42" width="7.12" height="4.75" fill="#fff" stroke="#8bc47f" stroke-width="0.8"/>
<line x1="49.14" x2="56.26" y1="83.8" y2="83.8" stroke="#8bc47f" stroke-width="1.3"/>
<text x="60.6" y="85.6" font-size="5.3" fill="#111" text-anchor="start" font-weight="normal" stroke="#111" stroke-width="0.12" textLength="16.1" lengthAdjust="spacingAndGlyphs">HyDRA</text>
<text transform="translate(18,167.4) rotate(-90)" font-size="7.0" fill="#000" text-anchor="middle" font-weight="normal" stroke="#000" stroke-width="0.15">1 - adjusted p-distance to HXB2</text>
<text x="137.3" y="362.6" font-size="6.95" fill="#000" text-anchor="middle" font-weight="normal" stroke="#000" stroke-width="0.18">Pipeline</text>
<text x="283" y="13" font-size="8.9" fill="#000" text-anchor="start" font-weight="normal" stroke="#000" stroke-width="0.35">B</text>
<text x="311.2" y="20.3" font-size="8.55" fill="#000" text-anchor="start" font-weight="normal" stroke="#000" stroke-width="0.12">Non-Subtype B: Adjusted Genetic P-distance to HXB2</text>
<rect x="311.5" y="25.1" width="50.4" height="10.8" fill="#d6d5d2"/>
<text x="336.7" y="32.6" font-size="5.6" fill="#1a1a1a" text-anchor="middle" font-weight="normal" stroke="#1a1a1a" stroke-width="0.12">POL</text>
<rect x="311.5" y="35.9" width="50.4" height="263.1" fill="#eaeae6"/>
<line x1="311.5" x2="361.9" y1="83.28" y2="83.28" stroke="#fff" stroke-width="0.45"/>
<line x1="311.5" x2="361.9" y1="153.62" y2="153.62" stroke="#fff" stroke-width="0.45"/>
<line x1="311.5" x2="361.9" y1="223.97" y2="223.97" stroke="#fff" stroke-width="0.45"/>
<line x1="311.5" x2="361.9" y1="294.33" y2="294.33" stroke="#fff" stroke-width="0.45"/>
<line x1="311.5" x2="361.9" y1="48.1" y2="48.1" stroke="#fff" stroke-width="0.9"/>
<line x1="311.5" x2="361.9" y1="118.45" y2="118.45" stroke="#fff" stroke-width="0.9"/>
<line x1="311.5" x2="361.9" y1="188.8" y2="188.8" stroke="#fff" stroke-width="0.9"/>
<line x1="311.5" x2="361.9" y1="259.15" y2="259.15" stroke="#fff" stroke-width="0.9"/>
<line x1="312.2" x2="312.2" y1="35.9" y2="299" stroke="#fff" stroke-opacity="0.55" stroke-width="0.4"/>
<line x1="319.2" x2="319.2" y1="35.9" y2="299" stroke="#fff" stroke-opacity="0.55" stroke-width="0.4"/>
<line x1="326.2" x2="326.2" y1="35.9" y2="299" stroke="#fff" stroke-opacity="0.55" stroke-width="0.4"/>
<line x1="333.2" x2="333.2" y1="35.9" y2="299" stroke="#fff" stroke-opacity="0.55" stroke-width="0.4"/>
<line x1="340.2" x2="340.2" y1="35.9" y2="299" stroke="#fff" stroke-opacity="0.55" stroke-width="0.4"/>
<line x1="347.2" x2="347.2" y1="35.9" y2="299" stroke="#fff" stroke-opacity="0.55" stroke-width="0.4"/>
<line x1="354.2" x2="354.2" y1="35.9" y2="299" stroke="#fff" stroke-opacity="0.55" stroke-width="0.4"/>
<line x1="361.2" x2="361.2" y1="35.9" y2="299" stroke="#fff" stroke-opacity="0.55" stroke-width="0.4"/>
<line x1="315.7" x2="315.7" y1="35.9" y2="299" stroke="#fff" stroke-width="0.9"/>
<line x1="322.7" x2="322.7" y1="35.9" y2="299" stroke="#fff" stroke-width="0.9"/>
<line x1="329.7" x2="329.7" y1="35.9" y2="299" stroke="#fff" stroke-width="0.9"/>
<line x1="336.7" x2="336.7" y1="35.9" y2="299" stroke="#fff" stroke-width="0.9"/>
<line x1="343.7" x2="343.7" y1="35.9" y2="299" stroke="#fff" stroke-width="0.9"/>
<line x1="350.7" x2="350.7" y1="35.9" y2="299" stroke="#fff" stroke-width="0.9"/>
<line x1="357.7" x2="357.7" y1="35.9" y2="299" stroke="#fff" stroke-width="0.9"/>
<line x1="315.7" x2="315.7" y1="299" y2="301" stroke="#333" stroke-width="1.0"/>
<text transform="translate(319.8,302.2) rotate(-90)" font-size="5.75" fill="#444" text-anchor="end" font-weight="normal" stroke="#444" stroke-width="0.25">initial</text>
<line x1="322.7" x2="322.7" y1="299" y2="301" stroke="#333" stroke-width="1.0"/>
<text transform="translate(326.8,302.2) rotate(-90)" font-size="5.75" fill="#444" text-anchor="end" font-weight="normal" stroke="#444" stroke-width="0.25">final</text>
<line x1="329.7" x2="329.7" y1="299" y2="301" stroke="#333" stroke-width="1.0"/>
<text transform="translate(333.8,302.2) rotate(-90)" font-size="5.75" fill="#444" text-anchor="end" font-weight="normal" stroke="#444" stroke-width="0.25">initial</text>
<line x1="336.7" x2="336.7" y1="299" y2="301" stroke="#333" stroke-width="1.0"/>
<text transform="translate(340.8,302.2) rotate(-90)" font-size="5.75" fill="#444" text-anchor="end" font-weight="normal" stroke="#444" stroke-width="0.25">final</text>
<line x1="343.7" x2="343.7" y1="299" y2="301" stroke="#333" stroke-width="1.0"/>
<text transform="translate(347.8,302.2) rotate(-90)" font-size="5.75" fill="#444" text-anchor="end" font-weight="normal" stroke="#444" stroke-width="0.25">de novo</text>
<line x1="350.7" x2="350.7" y1="299" y2="301" stroke="#333" stroke-width="1.0"/>
<text transform="translate(354.8,302.2) rotate(-90)" font-size="5.75" fill="#444" text-anchor="end" font-weight="normal" stroke="#444" stroke-width="0.25">reference based</text>
<line x1="357.7" x2="357.7" y1="299" y2="301" stroke="#333" stroke-width="1.0"/>
<text transform="translate(361.8,302.2) rotate(-90)" font-size="5.75" fill="#444" text-anchor="end" font-weight="normal" stroke="#444" stroke-width="0.25">average</text>
<line x1="309.6" x2="311.5" y1="48.1" y2="48.1" stroke="#333" stroke-width="1.0"/>
<text x="307.6" y="49.9" font-size="5.75" fill="#444" text-anchor="end" font-weight="normal" stroke="#444" stroke-width="0.12">1.00</text>
<line x1="309.6" x2="311.5" y1="118.45" y2="118.45" stroke="#333" stroke-width="1.0"/>
<text x="307.6" y="120.25" font-size="5.75" fill="#444" text-anchor="end" font-weight="normal" stroke="#444" stroke-width="0.12">0.95</text>
<line x1="309.6" x2="311.5" y1="188.8" y2="188.8" stroke="#333" stroke-width="1.0"/>
<text x="307.6" y="190.6" font-size="5.75" fill="#444" text-anchor="end" font-weight="normal" stroke="#444" stroke-width="0.12">0.90</text>
<line x1="309.6" x2="311.5" y1="259.15" y2="259.15" stroke="#333" stroke-width="1.0"/>
<text x="307.6" y="260.95" font-size="5.75" fill="#444" text-anchor="end" font-weight="normal" stroke="#444" stroke-width="0.12">0.85</text>
<line x1="315.7" x2="315.7" y1="168.3" y2="180.3" stroke="#585c80" stroke-width="1.15"/>
<line x1="315.7" x2="315.7" y1="191.7" y2="199.9" stroke="#585c80" stroke-width="1.15"/>
<rect x="312.9" y="180.3" width="5.6" height="11.4" fill="#fff" stroke="#585c80" stroke-width="0.9"/>
<line x1="312.9" x2="318.5" y1="186.3" y2="186.3" stroke="#585c80" stroke-width="1.35"/>
<circle cx="315.7" cy="137.2" r="1.55" fill="#585c80" fill-opacity="0.82"/>
<circle cx="315.7" cy="147.6" r="1.55" fill="#585c80" fill-opacity="0.82"/>
<circle cx="315.7" cy="150.4" r="1.55" fill="#585c80" fill-opacity="0.82"/>
<line x1="322.7" x2="322.7" y1="169.9" y2="181.4" stroke="#585c80" stroke-width="1.15"/>
<line x1="322.7" x2="322.7" y1="192.8" y2="201.5" stroke="#585c80" stroke-width="1.15"/>
<rect x="319.9" y="181.4" width="5.6" height="11.4" fill="#fff" stroke="#585c80" stroke-width="0.9"/>
<line x1="319.9" x2="325.5" y1="187.4" y2="187.4" stroke="#585c80" stroke-width="1.35"/>
<circle cx="322.7" cy="138.6" r="1.55" fill="#585c80" fill-opacity="0.82"/>
<circle cx="322.7" cy="147.4" r="1.55" fill="#585c80" fill-opacity="0.82"/>
<circle cx="322.7" cy="151.2" r="1.55" fill="#585c80" fill-opacity="0.82"/>
<line x1="329.7" x2="329.7" y1="172.1" y2="182.4" stroke="#5b9b8a" stroke-width="1.15"/>
<line x1="329.7" x2="329.7" y1="195" y2="204.8" stroke="#5b9b8a" stroke-width="1.15"/>
<rect x="326.9" y="182.4" width="5.6" height="12.6" fill="#fff" stroke="#5b9b8a" stroke-width="0.9"/>
<line x1="326.9" x2="332.5" y1="188.2" y2="188.2" stroke="#5b9b8a" stroke-width="1.35"/>
<circle cx="329.7" cy="138.1" r="1.55" fill="#5b9b8a" fill-opacity="0.82"/>
<circle cx="329.7" cy="143" r="1.55" fill="#5b9b8a" fill-opacity="0.82"/>
<circle cx="329.7" cy="146.8" r="1.55" fill="#5b9b8a" fill-opacity="0.82"/>
<circle cx="329.7" cy="153.9" r="1.55" fill="#5b9b8a" fill-opacity="0.82"/>
<circle cx="329.7" cy="155" r="1.55" fill="#5b9b8a" fill-opacity="0.82"/>
<line x1="336.7" x2="336.7" y1="172.1" y2="182.4" stroke="#5b9b8a" stroke-width="1.15"/>
<line x1="336.7" x2="336.7" y1="195" y2="204.8" stroke="#5b9b8a" stroke-width="1.15"/>
<rect x="333.9" y="182.4" width="5.6" height="12.6" fill="#fff" stroke="#5b9b8a" stroke-width="0.9"/>
<line x1="333.9" x2="339.5" y1="188.2" y2="188.2" stroke="#5b9b8a" stroke-width="1.35"/>
<circle cx="336.7" cy="138.1" r="1.55" fill="#5b9b8a" fill-opacity="0.82"/>
<circle cx="336.7" cy="143" r="1.55" fill="#5b9b8a" fill-opacity="0.82"/>
<circle cx="336.7" cy="146.8" r="1.55" fill="#5b9b8a" fill-opacity="0.82"/>
<circle cx="336.7" cy="153.9" r="1.55" fill="#5b9b8a" fill-opacity="0.82"/>
<circle cx="336.7" cy="155" r="1.55" fill="#5b9b8a" fill-opacity="0.82"/>
<line x1="343.7" x2="343.7" y1="179.2" y2="191" stroke="#4d4160" stroke-width="1.15"/>
<line x1="343.7" x2="343.7" y1="201.5" y2="211.4" stroke="#4d4160" stroke-width="1.15"/>
<rect x="340.9" y="191" width="5.6" height="10.5" fill="#fff" stroke="#4d4160" stroke-width="0.9"/>
<line x1="340.9" x2="346.5" y1="198" y2="198" stroke="#4d4160" stroke-width="1.35"/>
<circle cx="343.7" cy="147.9" r="1.55" fill="#4d4160" fill-opacity="0.82"/>
<circle cx="343.7" cy="156.2" r="1.55" fill="#4d4160" fill-opacity="0.82"/>
<circle cx="343.7" cy="158.3" r="1.55" fill="#4d4160" fill-opacity="0.82"/>
<circle cx="343.7" cy="160.4" r="1.55" fill="#4d4160" fill-opacity="0.82"/>
<line x1="350.7" x2="350.7" y1="180.3" y2="191.7" stroke="#4d4160" stroke-width="1.15"/>
<line x1="350.7" x2="350.7" y1="204.3" y2="211.4" stroke="#4d4160" stroke-width="1.15"/>
<rect x="347.9" y="191.7" width="5.6" height="12.6" fill="#fff" stroke="#4d4160" stroke-width="0.9"/>
<line x1="347.9" x2="353.5" y1="198.5" y2="198.5" stroke="#4d4160" stroke-width="1.35"/>
<circle cx="350.7" cy="147.9" r="1.55" fill="#4d4160" fill-opacity="0.82"/>
<circle cx="350.7" cy="156.2" r="1.55" fill="#4d4160" fill-opacity="0.82"/>
<circle cx="350.7" cy="158.3" r="1.55" fill="#4d4160" fill-opacity="0.82"/>
<circle cx="350.7" cy="160.4" r="1.55" fill="#4d4160" fill-opacity="0.82"/>
<line x1="357.7" x2="357.7" y1="200.5" y2="208.6" stroke="#8bc47f" stroke-width="1.15"/>
<line x1="357.7" x2="357.7" y1="222.8" y2="243.1" stroke="#8bc47f" stroke-width="1.15"/>
<rect x="354.9" y="208.6" width="5.6" height="14.2" fill="#fff" stroke="#8bc47f" stroke-width="0.9"/>
<line x1="354.9" x2="360.5" y1="214.1" y2="214.1" stroke="#8bc47f" stroke-width="1.35"/>
<circle cx="357.7" cy="161.5" r="1.55" fill="#8bc47f" fill-opacity="0.82"/>
<circle cx="357.7" cy="165.5" r="1.55" fill="#8bc47f" fill-opacity="0.82"/>
<circle cx="357.7" cy="172.6" r="1.55" fill="#8bc47f" fill-opacity="0.82"/>
<circle cx="357.7" cy="177" r="1.55" fill="#8bc47f" fill-opacity="0.82"/>
<circle cx="357.7" cy="259.4" r="1.55" fill="#8bc47f" fill-opacity="0.82"/>
<rect x="365.5" y="25.1" width="51" height="10.8" fill="#d6d5d2"/>
<text x="391" y="32.6" font-size="5.6" fill="#1a1a1a" text-anchor="middle" font-weight="normal" stroke="#1a1a1a" stroke-width="0.12">PRRT</text>
<rect x="365.5" y="35.9" width="51" height="263.1" fill="#eaeae6"/>
<line x1="365.5" x2="416.5" y1="83.28" y2="83.28" stroke="#fff" stroke-width="0.45"/>
<line x1="365.5" x2="416.5" y1="153.62" y2="153.62" stroke="#fff" stroke-width="0.45"/>
<line x1="365.5" x2="416.5" y1="223.97" y2="223.97" stroke="#fff" stroke-width="0.45"/>
<line x1="365.5" x2="416.5" y1="294.33" y2="294.33" stroke="#fff" stroke-width="0.45"/>
<line x1="365.5" x2="416.5" y1="48.1" y2="48.1" stroke="#fff" stroke-width="0.9"/>
<line x1="365.5" x2="416.5" y1="118.45" y2="118.45" stroke="#fff" stroke-width="0.9"/>
<line x1="365.5" x2="416.5" y1="188.8" y2="188.8" stroke="#fff" stroke-width="0.9"/>
<line x1="365.5" x2="416.5" y1="259.15" y2="259.15" stroke="#fff" stroke-width="0.9"/>
<line x1="366.21" x2="366.21" y1="35.9" y2="299" stroke="#fff" stroke-opacity="0.55" stroke-width="0.4"/>
<line x1="373.29" x2="373.29" y1="35.9" y2="299" stroke="#fff" stroke-opacity="0.55" stroke-width="0.4"/>
<line x1="380.38" x2="380.38" y1="35.9" y2="299" stroke="#fff" stroke-opacity="0.55" stroke-width="0.4"/>
<line x1="387.46" x2="387.46" y1="35.9" y2="299" stroke="#fff" stroke-opacity="0.55" stroke-width="0.4"/>
<line x1="394.54" x2="394.54" y1="35.9" y2="299" stroke="#fff" stroke-opacity="0.55" stroke-width="0.4"/>
<line x1="401.62" x2="401.62" y1="35.9" y2="299" stroke="#fff" stroke-opacity="0.55" stroke-width="0.4"/>
<line x1="408.71" x2="408.71" y1="35.9" y2="299" stroke="#fff" stroke-opacity="0.55" stroke-width="0.4"/>
<line x1="415.79" x2="415.79" y1="35.9" y2="299" stroke="#fff" stroke-opacity="0.55" stroke-width="0.4"/>
<line x1="369.75" x2="369.75" y1="35.9" y2="299" stroke="#fff" stroke-width="0.9"/>
<line x1="376.83" x2="376.83" y1="35.9" y2="299" stroke="#fff" stroke-width="0.9"/>
<line x1="383.92" x2="383.92" y1="35.9" y2="299" stroke="#fff" stroke-width="0.9"/>
<line x1="391" x2="391" y1="35.9" y2="299" stroke="#fff" stroke-width="0.9"/>
<line x1="398.08" x2="398.08" y1="35.9" y2="299" stroke="#fff" stroke-width="0.9"/>
<line x1="405.17" x2="405.17" y1="35.9" y2="299" stroke="#fff" stroke-width="0.9"/>
<line x1="412.25" x2="412.25" y1="35.9" y2="299" stroke="#fff" stroke-width="0.9"/>
<line x1="369.75" x2="369.75" y1="299" y2="301" stroke="#333" stroke-width="1.0"/>
<text transform="translate(373.85,302.2) rotate(-90)" font-size="5.75" fill="#444" text-anchor="end" font-weight="normal" stroke="#444" stroke-width="0.25">initial</text>
<line x1="376.83" x2="376.83" y1="299" y2="301" stroke="#333" stroke-width="1.0"/>
<text transform="translate(380.93,302.2) rotate(-90)" font-size="5.75" fill="#444" text-anchor="end" font-weight="normal" stroke="#444" stroke-width="0.25">final</text>
<line x1="383.92" x2="383.92" y1="299" y2="301" stroke="#333" stroke-width="1.0"/>
<text transform="translate(388.02,302.2) rotate(-90)" font-size="5.75" fill="#444" text-anchor="end" font-weight="normal" stroke="#444" stroke-width="0.25">initial</text>
<line x1="391" x2="391" y1="299" y2="301" stroke="#333" stroke-width="1.0"/>
<text transform="translate(395.1,302.2) rotate(-90)" font-size="5.75" fill="#444" text-anchor="end" font-weight="normal" stroke="#444" stroke-width="0.25">final</text>
<line x1="398.08" x2="398.08" y1="299" y2="301" stroke="#333" stroke-width="1.0"/>
<text transform="translate(402.18,302.2) rotate(-90)" font-size="5.75" fill="#444" text-anchor="end" font-weight="normal" stroke="#444" stroke-width="0.25">de novo</text>
<line x1="405.17" x2="405.17" y1="299" y2="301" stroke="#333" stroke-width="1.0"/>
<text transform="translate(409.27,302.2) rotate(-90)" font-size="5.75" fill="#444" text-anchor="end" font-weight="normal" stroke="#444" stroke-width="0.25">reference based</text>
<line x1="412.25" x2="412.25" y1="299" y2="301" stroke="#333" stroke-width="1.0"/>
<text transform="translate(416.35,302.2) rotate(-90)" font-size="5.75" fill="#444" text-anchor="end" font-weight="normal" stroke="#444" stroke-width="0.25">average</text>
<line x1="369.75" x2="369.75" y1="175.3" y2="188.6" stroke="#585c80" stroke-width="1.15"/>
<line x1="369.75" x2="369.75" y1="200.5" y2="217.9" stroke="#585c80" stroke-width="1.15"/>
<rect x="366.92" y="188.6" width="5.67" height="11.9" fill="#fff" stroke="#585c80" stroke-width="0.9"/>
<line x1="366.92" x2="372.58" y1="194.4" y2="194.4" stroke="#585c80" stroke-width="1.35"/>
<circle cx="369.75" cy="142.4" r="1.55" fill="#585c80" fill-opacity="0.82"/>
<circle cx="369.75" cy="148.4" r="1.55" fill="#585c80" fill-opacity="0.82"/>
<circle cx="369.75" cy="150.6" r="1.55" fill="#585c80" fill-opacity="0.82"/>
<circle cx="369.75" cy="153.9" r="1.55" fill="#585c80" fill-opacity="0.82"/>
<circle cx="369.75" cy="161" r="1.55" fill="#585c80" fill-opacity="0.82"/>
<line x1="376.83" x2="376.83" y1="176.9" y2="189.4" stroke="#585c80" stroke-width="1.15"/>
<line x1="376.83" x2="376.83" y1="202.1" y2="218.4" stroke="#585c80" stroke-width="1.15"/>
<rect x="374" y="189.4" width="5.67" height="12.7" fill="#fff" stroke="#585c80" stroke-width="0.9"/>
<line x1="374" x2="379.67" y1="194.7" y2="194.7" stroke="#585c80" stroke-width="1.35"/>
<circle cx="376.83" cy="143.5" r="1.55" fill="#585c80" fill-opacity="0.82"/>
<circle cx="376.83" cy="148.4" r="1.55" fill="#585c80" fill-opacity="0.82"/>
<circle cx="376.83" cy="151.7" r="1.55" fill="#585c80" fill-opacity="0.82"/>
<circle cx="376.83" cy="155.8" r="1.55" fill="#585c80" fill-opacity="0.82"/>
<circle cx="376.83" cy="161.5" r="1.55" fill="#585c80" fill-opacity="0.82"/>
<line x1="383.92" x2="383.92" y1="179.6" y2="190.8" stroke="#5b9b8a" stroke-width="1.15"/>
<line x1="383.92" x2="383.92" y1="203.7" y2="223.4" stroke="#5b9b8a" stroke-width="1.15"/>
<rect x="381.08" y="190.8" width="5.67" height="12.9" fill="#fff" stroke="#5b9b8a" stroke-width="0.9"/>
<line x1="381.08" x2="386.75" y1="196.6" y2="196.6" stroke="#5b9b8a" stroke-width="1.35"/>
<circle cx="383.92" cy="143.5" r="1.55" fill="#5b9b8a" fill-opacity="0.82"/>
<circle cx="383.92" cy="148.4" r="1.55" fill="#5b9b8a" fill-opacity="0.82"/>
<circle cx="383.92" cy="157.7" r="1.55" fill="#5b9b8a" fill-opacity="0.82"/>
<circle cx="383.92" cy="161.5" r="1.55" fill="#5b9b8a" fill-opacity="0.82"/>
<circle cx="383.92" cy="166" r="1.55" fill="#5b9b8a" fill-opacity="0.82"/>
<line x1="391" x2="391" y1="179.6" y2="190.8" stroke="#5b9b8a" stroke-width="1.15"/>
<line x1="391" x2="391" y1="203.7" y2="223.4" stroke="#5b9b8a" stroke-width="1.15"/>
<rect x="388.17" y="190.8" width="5.67" height="12.9" fill="#fff" stroke="#5b9b8a" stroke-width="0.9"/>
<line x1="388.17" x2="393.83" y1="196.6" y2="196.6" stroke="#5b9b8a" stroke-width="1.35"/>
<circle cx="391" cy="143.5" r="1.55" fill="#5b9b8a" fill-opacity="0.82"/>
<circle cx="391" cy="148.4" r="1.55" fill="#5b9b8a" fill-opacity="0.82"/>
<circle cx="391" cy="157.7" r="1.55" fill="#5b9b8a" fill-opacity="0.82"/>
<circle cx="391" cy="161.5" r="1.55" fill="#5b9b8a" fill-opacity="0.82"/>
<circle cx="391" cy="166" r="1.55" fill="#5b9b8a" fill-opacity="0.82"/>
<line x1="398.08" x2="398.08" y1="182.9" y2="196.5" stroke="#4d4160" stroke-width="1.15"/>
<line x1="398.08" x2="398.08" y1="208.1" y2="220.1" stroke="#4d4160" stroke-width="1.15"/>
<rect x="395.25" y="196.5" width="5.67" height="11.6" fill="#fff" stroke="#4d4160" stroke-width="0.9"/>
<line x1="395.25" x2="400.92" y1="199.9" y2="199.9" stroke="#4d4160" stroke-width="1.35"/>
<circle cx="398.08" cy="151.2" r="1.55" fill="#4d4160" fill-opacity="0.82"/>
<circle cx="398.08" cy="156.6" r="1.55" fill="#4d4160" fill-opacity="0.82"/>
<circle cx="398.08" cy="158.3" r="1.55" fill="#4d4160" fill-opacity="0.82"/>
<circle cx="398.08" cy="161.5" r="1.55" fill="#4d4160" fill-opacity="0.82"/>
<circle cx="398.08" cy="167.9" r="1.55" fill="#4d4160" fill-opacity="0.82"/>
<circle cx="398.08" cy="227.5" r="1.55" fill="#4d4160" fill-opacity="0.82"/>
<line x1="405.17" x2="405.17" y1="185.1" y2="197.4" stroke="#4d4160" stroke-width="1.15"/>
<line x1="405.17" x2="405.17" y1="208.1" y2="220.1" stroke="#4d4160" stroke-width="1.15"/>
<rect x="402.33" y="197.4" width="5.67" height="10.7" fill="#fff" stroke="#4d4160" stroke-width="0.9"/>
<line x1="402.33" x2="408" y1="203.5" y2="203.5" stroke="#4d4160" stroke-width="1.35"/>
<circle cx="405.17" cy="151.2" r="1.55" fill="#4d4160" fill-opacity="0.82"/>
<circle cx="405.17" cy="156.6" r="1.55" fill="#4d4160" fill-opacity="0.82"/>
<circle cx="405.17" cy="158.3" r="1.55" fill="#4d4160" fill-opacity="0.82"/>
<circle cx="405.17" cy="161.5" r="1.55" fill="#4d4160" fill-opacity="0.82"/>
<circle cx="405.17" cy="167.9" r="1.55" fill="#4d4160" fill-opacity="0.82"/>
<circle cx="405.17" cy="227.2" r="1.55" fill="#4d4160" fill-opacity="0.82"/>
<circle cx="405.17" cy="235" r="1.55" fill="#4d4160" fill-opacity="0.82"/>
<line x1="412.25" x2="412.25" y1="182.9" y2="210.3" stroke="#8bc47f" stroke-width="1.15"/>
<line x1="412.25" x2="412.25" y1="231" y2="258.6" stroke="#8bc47f" stroke-width="1.15"/>
<rect x="409.42" y="210.3" width="5.67" height="20.7" fill="#fff" stroke="#8bc47f" stroke-width="0.9"/>
<line x1="409.42" x2="415.08" y1="217.4" y2="217.4" stroke="#8bc47f" stroke-width="1.35"/>
<circle cx="412.25" cy="162.4" r="1.55" fill="#8bc47f" fill-opacity="0.82"/>
<circle cx="412.25" cy="171.5" r="1.55" fill="#8bc47f" fill-opacity="0.82"/>
<circle cx="412.25" cy="177.4" r="1.55" fill="#8bc47f" fill-opacity="0.82"/>
<circle cx="412.25" cy="278.9" r="1.55" fill="#8bc47f" fill-opacity="0.82"/>
<rect x="420.2" y="25.1" width="50.6" height="10.8" fill="#d6d5d2"/>
<text x="445.5" y="32.6" font-size="5.6" fill="#1a1a1a" text-anchor="middle" font-weight="normal" stroke="#1a1a1a" stroke-width="0.12">INT</text>
<rect x="420.2" y="35.9" width="50.6" height="263.1" fill="#eaeae6"/>
<line x1="420.2" x2="470.8" y1="83.28" y2="83.28" stroke="#fff" stroke-width="0.45"/>
<line x1="420.2" x2="470.8" y1="153.62" y2="153.62" stroke="#fff" stroke-width="0.45"/>
<line x1="420.2" x2="470.8" y1="223.97" y2="223.97" stroke="#fff" stroke-width="0.45"/>
<line x1="420.2" x2="470.8" y1="294.33" y2="294.33" stroke="#fff" stroke-width="0.45"/>
<line x1="420.2" x2="470.8" y1="48.1" y2="48.1" stroke="#fff" stroke-width="0.9"/>
<line x1="420.2" x2="470.8" y1="118.45" y2="118.45" stroke="#fff" stroke-width="0.9"/>
<line x1="420.2" x2="470.8" y1="188.8" y2="188.8" stroke="#fff" stroke-width="0.9"/>
<line x1="420.2" x2="470.8" y1="259.15" y2="259.15" stroke="#fff" stroke-width="0.9"/>
<line x1="420.9" x2="420.9" y1="35.9" y2="299" stroke="#fff" stroke-opacity="0.55" stroke-width="0.4"/>
<line x1="427.93" x2="427.93" y1="35.9" y2="299" stroke="#fff" stroke-opacity="0.55" stroke-width="0.4"/>
<line x1="434.96" x2="434.96" y1="35.9" y2="299" stroke="#fff" stroke-opacity="0.55" stroke-width="0.4"/>
<line x1="441.99" x2="441.99" y1="35.9" y2="299" stroke="#fff" stroke-opacity="0.55" stroke-width="0.4"/>
<line x1="449.01" x2="449.01" y1="35.9" y2="299" stroke="#fff" stroke-opacity="0.55" stroke-width="0.4"/>
<line x1="456.04" x2="456.04" y1="35.9" y2="299" stroke="#fff" stroke-opacity="0.55" stroke-width="0.4"/>
<line x1="463.07" x2="463.07" y1="35.9" y2="299" stroke="#fff" stroke-opacity="0.55" stroke-width="0.4"/>
<line x1="470.1" x2="470.1" y1="35.9" y2="299" stroke="#fff" stroke-opacity="0.55" stroke-width="0.4"/>
<line x1="424.42" x2="424.42" y1="35.9" y2="299" stroke="#fff" stroke-width="0.9"/>
<line x1="431.44" x2="431.44" y1="35.9" y2="299" stroke="#fff" stroke-width="0.9"/>
<line x1="438.47" x2="438.47" y1="35.9" y2="299" stroke="#fff" stroke-width="0.9"/>
<line x1="445.5" x2="445.5" y1="35.9" y2="299" stroke="#fff" stroke-width="0.9"/>
<line x1="452.53" x2="452.53" y1="35.9" y2="299" stroke="#fff" stroke-width="0.9"/>
<line x1="459.56" x2="459.56" y1="35.9" y2="299" stroke="#fff" stroke-width="0.9"/>
<line x1="466.58" x2="466.58" y1="35.9" y2="299" stroke="#fff" stroke-width="0.9"/>
<line x1="424.42" x2="424.42" y1="299" y2="301" stroke="#333" stroke-width="1.0"/>
<text transform="translate(428.52,302.2) rotate(-90)" font-size="5.75" fill="#444" text-anchor="end" font-weight="normal" stroke="#444" stroke-width="0.25">initial</text>
<line x1="431.44" x2="431.44" y1="299" y2="301" stroke="#333" stroke-width="1.0"/>
<text transform="translate(435.54,302.2) rotate(-90)" font-size="5.75" fill="#444" text-anchor="end" font-weight="normal" stroke="#444" stroke-width="0.25">final</text>
<line x1="438.47" x2="438.47" y1="299" y2="301" stroke="#333" stroke-width="1.0"/>
<text transform="translate(442.57,302.2) rotate(-90)" font-size="5.75" fill="#444" text-anchor="end" font-weight="normal" stroke="#444" stroke-width="0.25">initial</text>
<line x1="445.5" x2="445.5" y1="299" y2="301" stroke="#333" stroke-width="1.0"/>
<text transform="translate(449.6,302.2) rotate(-90)" font-size="5.75" fill="#444" text-anchor="end" font-weight="normal" stroke="#444" stroke-width="0.25">final</text>
<line x1="452.53" x2="452.53" y1="299" y2="301" stroke="#333" stroke-width="1.0"/>
<text transform="translate(456.63,302.2) rotate(-90)" font-size="5.75" fill="#444" text-anchor="end" font-weight="normal" stroke="#444" stroke-width="0.25">de novo</text>
<line x1="459.56" x2="459.56" y1="299" y2="301" stroke="#333" stroke-width="1.0"/>
<text transform="translate(463.66,302.2) rotate(-90)" font-size="5.75" fill="#444" text-anchor="end" font-weight="normal" stroke="#444" stroke-width="0.25">reference based</text>
<line x1="466.58" x2="466.58" y1="299" y2="301" stroke="#333" stroke-width="1.0"/>
<text transform="translate(470.68,302.2) rotate(-90)" font-size="5.75" fill="#444" text-anchor="end" font-weight="normal" stroke="#444" stroke-width="0.25">average</text>
<line x1="424.42" x2="424.42" y1="142.4" y2="160.4" stroke="#585c80" stroke-width="1.15"/>
<line x1="424.42" x2="424.42" y1="177.4" y2="190.5" stroke="#585c80" stroke-width="1.15"/>
<rect x="421.61" y="160.4" width="5.62" height="17" fill="#fff" stroke="#585c80" stroke-width="0.9"/>
<line x1="421.61" x2="427.23" y1="170" y2="170" stroke="#585c80" stroke-width="1.35"/>
<circle cx="424.42" cy="114.6" r="1.55" fill="#585c80" fill-opacity="0.82"/>
<circle cx="424.42" cy="125.5" r="1.55" fill="#585c80" fill-opacity="0.82"/>
<circle cx="424.42" cy="127.7" r="1.55" fill="#585c80" fill-opacity="0.82"/>
<line x1="431.44" x2="431.44" y1="144.1" y2="161.5" stroke="#585c80" stroke-width="1.15"/>
<line x1="431.44" x2="431.44" y1="179.6" y2="190.5" stroke="#585c80" stroke-width="1.15"/>
<rect x="428.63" y="161.5" width="5.62" height="18.1" fill="#fff" stroke="#585c80" stroke-width="0.9"/>
<line x1="428.63" x2="434.26" y1="170.9" y2="170.9" stroke="#585c80" stroke-width="1.35"/>
<circle cx="431.44" cy="114.6" r="1.55" fill="#585c80" fill-opacity="0.82"/>
<circle cx="431.44" cy="127.7" r="1.55" fill="#585c80" fill-opacity="0.82"/>
<circle cx="431.44" cy="130.8" r="1.55" fill="#585c80" fill-opacity="0.82"/>
<line x1="438.47" x2="438.47" y1="144.1" y2="161.5" stroke="#5b9b8a" stroke-width="1.15"/>
<line x1="438.47" x2="438.47" y1="180.2" y2="195.4" stroke="#5b9b8a" stroke-width="1.15"/>
<rect x="435.66" y="161.5" width="5.62" height="18.7" fill="#fff" stroke="#5b9b8a" stroke-width="0.9"/>
<line x1="435.66" x2="441.28" y1="171.5" y2="171.5" stroke="#5b9b8a" stroke-width="1.35"/>
<circle cx="438.47" cy="114.6" r="1.55" fill="#5b9b8a" fill-opacity="0.82"/>
<circle cx="438.47" cy="127.7" r="1.55" fill="#5b9b8a" fill-opacity="0.82"/>
<circle cx="438.47" cy="130.8" r="1.55" fill="#5b9b8a" fill-opacity="0.82"/>
<line x1="445.5" x2="445.5" y1="144.1" y2="161.5" stroke="#5b9b8a" stroke-width="1.15"/>
<line x1="445.5" x2="445.5" y1="180.2" y2="195.4" stroke="#5b9b8a" stroke-width="1.15"/>
<rect x="442.69" y="161.5" width="5.62" height="18.7" fill="#fff" stroke="#5b9b8a" stroke-width="0.9"/>
<line x1="442.69" x2="448.31" y1="171.5" y2="171.5" stroke="#5b9b8a" stroke-width="1.35"/>
<circle cx="445.5" cy="114.6" r="1.55" fill="#5b9b8a" fill-opacity="0.82"/>
<circle cx="445.5" cy="127.7" r="1.55" fill="#5b9b8a" fill-opacity="0.82"/>
<circle cx="445.5" cy="130.8" r="1.55" fill="#5b9b8a" fill-opacity="0.82"/>
<line x1="452.53" x2="452.53" y1="155" y2="176.9" stroke="#4d4160" stroke-width="1.15"/>
<line x1="452.53" x2="452.53" y1="193.3" y2="202.6" stroke="#4d4160" stroke-width="1.15"/>
<rect x="449.72" y="176.9" width="5.62" height="16.4" fill="#fff" stroke="#4d4160" stroke-width="0.9"/>
<line x1="449.72" x2="455.34" y1="185.6" y2="185.6" stroke="#4d4160" stroke-width="1.35"/>
<circle cx="452.53" cy="127.7" r="1.55" fill="#4d4160" fill-opacity="0.82"/>
<circle cx="452.53" cy="141.9" r="1.55" fill="#4d4160" fill-opacity="0.82"/>
<circle cx="452.53" cy="145.7" r="1.55" fill="#4d4160" fill-opacity="0.82"/>
<circle cx="452.53" cy="151.7" r="1.55" fill="#4d4160" fill-opacity="0.82"/>
<line x1="459.56" x2="459.56" y1="155" y2="178" stroke="#4d4160" stroke-width="1.15"/>
<line x1="459.56" x2="459.56" y1="193.8" y2="204.8" stroke="#4d4160" stroke-width="1.15"/>
<rect x="456.74" y="178" width="5.62" height="15.8" fill="#fff" stroke="#4d4160" stroke-width="0.9"/>
<line x1="456.74" x2="462.37" y1="185.6" y2="185.6" stroke="#4d4160" stroke-width="1.35"/>
<circle cx="459.56" cy="127.7" r="1.55" fill="#4d4160" fill-opacity="0.82"/>
<circle cx="459.56" cy="141.9" r="1.55" fill="#4d4160" fill-opacity="0.82"/>
<circle cx="459.56" cy="145.7" r="1.55" fill="#4d4160" fill-opacity="0.82"/>
<circle cx="459.56" cy="151.7" r="1.55" fill="#4d4160" fill-opacity="0.82"/>
<line x1="466.58" x2="466.58" y1="165" y2="197" stroke="#8bc47f" stroke-width="1.15"/>
<line x1="466.58" x2="466.58" y1="215.2" y2="241.5" stroke="#8bc47f" stroke-width="1.15"/>
<rect x="463.77" y="197" width="5.62" height="18.2" fill="#fff" stroke="#8bc47f" stroke-width="0.9"/>
<line x1="463.77" x2="469.39" y1="208.6" y2="208.6" stroke="#8bc47f" stroke-width="1.35"/>
<circle cx="466.58" cy="154.4" r="1.55" fill="#8bc47f" fill-opacity="0.82"/>
<circle cx="466.58" cy="161" r="1.55" fill="#8bc47f" fill-opacity="0.82"/>
<circle cx="466.58" cy="262.2" r="1.55" fill="#8bc47f" fill-opacity="0.82"/>
<rect x="488.7" y="25.1" width="51.9" height="10.8" fill="#d6d5d2"/>
<text x="514.65" y="32.6" font-size="5.6" fill="#1a1a1a" text-anchor="middle" font-weight="normal" stroke="#1a1a1a" stroke-width="0.12">gp120</text>
<rect x="488.7" y="35.9" width="51.9" height="263.1" fill="#eaeae6"/>
<line x1="488.7" x2="540.6" y1="80.55" y2="80.55" stroke="#fff" stroke-width="0.45"/>
<line x1="488.7" x2="540.6" y1="144.05" y2="144.05" stroke="#fff" stroke-width="0.45"/>
<line x1="488.7" x2="540.6" y1="207.55" y2="207.55" stroke="#fff" stroke-width="0.45"/>
<line x1="488.7" x2="540.6" y1="271.05" y2="271.05" stroke="#fff" stroke-width="0.45"/>
<line x1="488.7" x2="540.6" y1="48.8" y2="48.8" stroke="#fff" stroke-width="0.9"/>
<line x1="488.7" x2="540.6" y1="112.3" y2="112.3" stroke="#fff" stroke-width="0.9"/>
<line x1="488.7" x2="540.6" y1="175.8" y2="175.8" stroke="#fff" stroke-width="0.9"/>
<line x1="488.7" x2="540.6" y1="239.3" y2="239.3" stroke="#fff" stroke-width="0.9"/>
<line x1="489.54" x2="489.54" y1="35.9" y2="299" stroke="#fff" stroke-opacity="0.55" stroke-width="0.4"/>
<line x1="497.91" x2="497.91" y1="35.9" y2="299" stroke="#fff" stroke-opacity="0.55" stroke-width="0.4"/>
<line x1="506.28" x2="506.28" y1="35.9" y2="299" stroke="#fff" stroke-opacity="0.55" stroke-width="0.4"/>
<line x1="514.65" x2="514.65" y1="35.9" y2="299" stroke="#fff" stroke-opacity="0.55" stroke-width="0.4"/>
<line x1="523.02" x2="523.02" y1="35.9" y2="299" stroke="#fff" stroke-opacity="0.55" stroke-width="0.4"/>
<line x1="531.39" x2="531.39" y1="35.9" y2="299" stroke="#fff" stroke-opacity="0.55" stroke-width="0.4"/>
<line x1="539.76" x2="539.76" y1="35.9" y2="299" stroke="#fff" stroke-opacity="0.55" stroke-width="0.4"/>
<line x1="493.72" x2="493.72" y1="35.9" y2="299" stroke="#fff" stroke-width="0.9"/>
<line x1="502.09" x2="502.09" y1="35.9" y2="299" stroke="#fff" stroke-width="0.9"/>
<line x1="510.46" x2="510.46" y1="35.9" y2="299" stroke="#fff" stroke-width="0.9"/>
<line x1="518.84" x2="518.84" y1="35.9" y2="299" stroke="#fff" stroke-width="0.9"/>
<line x1="527.21" x2="527.21" y1="35.9" y2="299" stroke="#fff" stroke-width="0.9"/>
<line x1="535.58" x2="535.58" y1="35.9" y2="299" stroke="#fff" stroke-width="0.9"/>
<line x1="493.72" x2="493.72" y1="299" y2="301" stroke="#333" stroke-width="1.0"/>
<text transform="translate(497.82,302.2) rotate(-90)" font-size="5.75" fill="#444" text-anchor="end" font-weight="normal" stroke="#444" stroke-width="0.25">initial</text>
<line x1="502.09" x2="502.09" y1="299" y2="301" stroke="#333" stroke-width="1.0"/>
<text transform="translate(506.19,302.2) rotate(-90)" font-size="5.75" fill="#444" text-anchor="end" font-weight="normal" stroke="#444" stroke-width="0.25">final</text>
<line x1="510.46" x2="510.46" y1="299" y2="301" stroke="#333" stroke-width="1.0"/>
<text transform="translate(514.56,302.2) rotate(-90)" font-size="5.75" fill="#444" text-anchor="end" font-weight="normal" stroke="#444" stroke-width="0.25">initial</text>
<line x1="518.84" x2="518.84" y1="299" y2="301" stroke="#333" stroke-width="1.0"/>
<text transform="translate(522.94,302.2) rotate(-90)" font-size="5.75" fill="#444" text-anchor="end" font-weight="normal" stroke="#444" stroke-width="0.25">final</text>
<line x1="527.21" x2="527.21" y1="299" y2="301" stroke="#333" stroke-width="1.0"/>
<text transform="translate(531.31,302.2) rotate(-90)" font-size="5.75" fill="#444" text-anchor="end" font-weight="normal" stroke="#444" stroke-width="0.25">de novo</text>
<line x1="535.58" x2="535.58" y1="299" y2="301" stroke="#333" stroke-width="1.0"/>
<text transform="translate(539.68,302.2) rotate(-90)" font-size="5.75" fill="#444" text-anchor="end" font-weight="normal" stroke="#444" stroke-width="0.25">reference based</text>
<line x1="486.8" x2="488.7" y1="48.8" y2="48.8" stroke="#333" stroke-width="1.0"/>
<text x="485.4" y="50.6" font-size="5.75" fill="#444" text-anchor="end" font-weight="normal" stroke="#444" stroke-width="0.12">1.0</text>
<line x1="486.8" x2="488.7" y1="112.3" y2="112.3" stroke="#333" stroke-width="1.0"/>
<text x="485.4" y="114.1" font-size="5.75" fill="#444" text-anchor="end" font-weight="normal" stroke="#444" stroke-width="0.12">0.8</text>
<line x1="486.8" x2="488.7" y1="175.8" y2="175.8" stroke="#333" stroke-width="1.0"/>
<text x="485.4" y="177.6" font-size="5.75" fill="#444" text-anchor="end" font-weight="normal" stroke="#444" stroke-width="0.12">0.6</text>
<line x1="486.8" x2="488.7" y1="239.3" y2="239.3" stroke="#333" stroke-width="1.0"/>
<text x="485.4" y="241.1" font-size="5.75" fill="#444" text-anchor="end" font-weight="normal" stroke="#444" stroke-width="0.12">0.4</text>
<line x1="493.72" x2="493.72" y1="159.3" y2="163.6" stroke="#585c80" stroke-width="1.15"/>
<line x1="493.72" x2="493.72" y1="181.6" y2="198.6" stroke="#585c80" stroke-width="1.15"/>
<rect x="490.46" y="163.6" width="6.53" height="18" fill="#fff" stroke="#585c80" stroke-width="0.9"/>
<line x1="490.46" x2="496.99" y1="168.5" y2="168.5" stroke="#585c80" stroke-width="1.35"/>
<circle cx="493.72" cy="215.5" r="1.55" fill="#585c80" fill-opacity="0.82"/>
<circle cx="493.72" cy="238" r="1.55" fill="#585c80" fill-opacity="0.82"/>
<line x1="502.09" x2="502.09" y1="159.3" y2="163.6" stroke="#585c80" stroke-width="1.15"/>
<line x1="502.09" x2="502.09" y1="181.6" y2="197.5" stroke="#585c80" stroke-width="1.15"/>
<rect x="498.83" y="163.6" width="6.53" height="18" fill="#fff" stroke="#585c80" stroke-width="0.9"/>
<line x1="498.83" x2="505.36" y1="168.5" y2="168.5" stroke="#585c80" stroke-width="1.35"/>
<circle cx="502.09" cy="215.5" r="1.55" fill="#585c80" fill-opacity="0.82"/>
<circle cx="502.09" cy="238" r="1.55" fill="#585c80" fill-opacity="0.82"/>
<line x1="510.46" x2="510.46" y1="169.1" y2="190.7" stroke="#5b9b8a" stroke-width="1.15"/>
<line x1="510.46" x2="510.46" y1="210.6" y2="230.4" stroke="#5b9b8a" stroke-width="1.15"/>
<rect x="507.2" y="190.7" width="6.53" height="19.9" fill="#fff" stroke="#5b9b8a" stroke-width="0.9"/>
<line x1="507.2" x2="513.73" y1="203.3" y2="203.3" stroke="#5b9b8a" stroke-width="1.35"/>
<circle cx="510.46" cy="245.6" r="1.55" fill="#5b9b8a" fill-opacity="0.82"/>
<circle cx="510.46" cy="248.6" r="1.55" fill="#5b9b8a" fill-opacity="0.82"/>
<circle cx="510.46" cy="253.8" r="1.55" fill="#5b9b8a" fill-opacity="0.82"/>
<circle cx="510.46" cy="276.4" r="1.55" fill="#5b9b8a" fill-opacity="0.82"/>
<line x1="518.84" x2="518.84" y1="153.8" y2="161.5" stroke="#5b9b8a" stroke-width="1.15"/>
<line x1="518.84" x2="518.84" y1="169.6" y2="176.7" stroke="#5b9b8a" stroke-width="1.15"/>
<rect x="515.57" y="161.5" width="6.53" height="8.1" fill="#fff" stroke="#5b9b8a" stroke-width="0.9"/>
<line x1="515.57" x2="522.1" y1="166.9" y2="166.9" stroke="#5b9b8a" stroke-width="1.35"/>
<circle cx="518.84" cy="182.6" r="1.55" fill="#5b9b8a" fill-opacity="0.82"/>
<circle cx="518.84" cy="184.3" r="1.55" fill="#5b9b8a" fill-opacity="0.82"/>
<circle cx="518.84" cy="186" r="1.55" fill="#5b9b8a" fill-opacity="0.82"/>
<circle cx="518.84" cy="232" r="1.55" fill="#5b9b8a" fill-opacity="0.82"/>
<line x1="527.21" x2="527.21" y1="159.5" y2="164.8" stroke="#4d4160" stroke-width="1.15"/>
<line x1="527.21" x2="527.21" y1="168.6" y2="171.4" stroke="#4d4160" stroke-width="1.15"/>
<rect x="523.94" y="164.8" width="6.53" height="3.8" fill="#4d4160" stroke="#4d4160" stroke-width="0.9"/>
<line x1="523.94" x2="530.47" y1="166.7" y2="166.7" stroke="#4d4160" stroke-width="1.35"/>
<circle cx="527.21" cy="156.7" r="1.55" fill="#4d4160" fill-opacity="0.82"/>
<circle cx="527.21" cy="159" r="1.55" fill="#4d4160" fill-opacity="0.82"/>
<circle cx="527.21" cy="175" r="1.55" fill="#4d4160" fill-opacity="0.82"/>
<line x1="535.58" x2="535.58" y1="191" y2="199.2" stroke="#4d4160" stroke-width="1.15"/>
<line x1="535.58" x2="535.58" y1="212.3" y2="226" stroke="#4d4160" stroke-width="1.15"/>
<rect x="532.31" y="199.2" width="6.53" height="13.1" fill="#fff" stroke="#4d4160" stroke-width="0.9"/>
<line x1="532.31" x2="538.84" y1="205.5" y2="205.5" stroke="#4d4160" stroke-width="1.35"/>
<circle cx="535.58" cy="169.1" r="1.55" fill="#4d4160" fill-opacity="0.82"/>
<circle cx="535.58" cy="175.6" r="1.55" fill="#4d4160" fill-opacity="0.82"/>
<circle cx="535.58" cy="177.5" r="1.55" fill="#4d4160" fill-opacity="0.82"/>
<circle cx="535.58" cy="178.9" r="1.55" fill="#4d4160" fill-opacity="0.82"/>
<circle cx="535.58" cy="234.2" r="1.55" fill="#4d4160" fill-opacity="0.82"/>
<circle cx="535.58" cy="246.2" r="1.55" fill="#4d4160" fill-opacity="0.82"/>
<circle cx="535.58" cy="269.7" r="1.55" fill="#4d4160" fill-opacity="0.82"/>
<rect x="316" y="47.8" width="70.9" height="44.7" fill="#fff" fill-opacity="0.5"/>
<line x1="326" x2="326" y1="51.5" y2="59.1" stroke="#585c80" stroke-width="0.8"/>
<rect x="322.44" y="52.92" width="7.12" height="4.75" fill="#fff" stroke="#585c80" stroke-width="0.8"/>
<line x1="322.44" x2="329.56" y1="55.3" y2="55.3" stroke="#585c80" stroke-width="1.3"/>
<text x="334" y="57.1" font-size="5.3" fill="#111" text-anchor="start" font-weight="normal" stroke="#111" stroke-width="0.12" textLength="51.28" lengthAdjust="spacingAndGlyphs">haphpipe_assemble_01</text>
<line x1="326" x2="326" y1="61" y2="68.6" stroke="#5b9b8a" stroke-width="0.8"/>
<rect x="322.44" y="62.42" width="7.12" height="4.75" fill="#fff" stroke="#5b9b8a" stroke-width="0.8"/>
<line x1="322.44" x2="329.56" y1="64.8" y2="64.8" stroke="#5b9b8a" stroke-width="1.3"/>
<text x="334" y="66.6" font-size="5.3" fill="#111" text-anchor="start" font-weight="normal" stroke="#111" stroke-width="0.12" textLength="51.28" lengthAdjust="spacingAndGlyphs">haphpipe_assemble_02</text>
<line x1="326" x2="326" y1="70.5" y2="78.1" stroke="#4d4160" stroke-width="0.8"/>
<rect x="322.44" y="71.92" width="7.12" height="4.75" fill="#fff" stroke="#4d4160" stroke-width="0.8"/>
<line x1="322.44" x2="329.56" y1="74.3" y2="74.3" stroke="#4d4160" stroke-width="1.3"/>
<text x="334" y="76.1" font-size="5.3" fill="#111" text-anchor="start" font-weight="normal" stroke="#111" stroke-width="0.12" textLength="20.67" lengthAdjust="spacingAndGlyphs">Geneious</text>
<line x1="326" x2="326" y1="80" y2="87.6" stroke="#8bc47f" stroke-width="0.8"/>
<rect x="322.44" y="81.42" width="7.12" height="4.75" fill="#fff" stroke="#8bc47f" stroke-width="0.8"/>
<line x1="322.44" x2="329.56" y1="83.8" y2="83.8" stroke="#8bc47f" stroke-width="1.3"/>
<text x="334" y="85.6" font-size="5.3" fill="#111" text-anchor="start" font-weight="normal" stroke="#111" stroke-width="0.12" textLength="16.1" lengthAdjust="spacingAndGlyphs">HyDRA</text>
<text transform="translate(293.6,167.3) rotate(-90)" font-size="7.0" fill="#000" text-anchor="middle" font-weight="normal" stroke="#000" stroke-width="0.15">1 - adjusted p-distance to HXB2</text>
<text x="410" y="362.6" font-size="6.95" fill="#000" text-anchor="middle" font-weight="normal" stroke="#000" stroke-width="0.18">Pipeline</text>
</svg>
</body></html>
